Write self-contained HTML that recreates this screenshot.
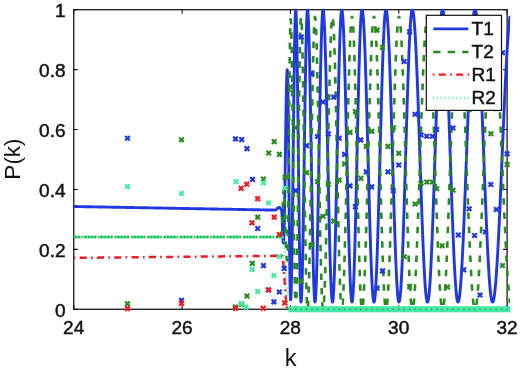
<!DOCTYPE html>
<html><head><meta charset="utf-8"><title>P(k)</title>
<style>html,body{margin:0;padding:0;background:#fff;width:520px;height:371px;overflow:hidden}</style></head>
<body>
<svg width="520" height="371" viewBox="0 0 520 371" style="display:block;position:absolute;left:0;top:0" font-family="'Liberation Sans', sans-serif"><style>text{stroke:#111;stroke-width:0.45px;paint-order:stroke}</style>
<rect width="520" height="371" fill="#fff"/>
<defs><clipPath id="bd"><rect x="341.75" y="11.90" width="175" height="6.5"/><rect x="341.75" y="26.23" width="175" height="6.5"/><rect x="341.75" y="40.56" width="175" height="6.5"/><rect x="341.75" y="54.89" width="175" height="6.5"/><rect x="341.75" y="69.22" width="175" height="6.5"/><rect x="341.75" y="83.55" width="175" height="6.5"/><rect x="341.75" y="97.88" width="175" height="6.5"/><rect x="341.75" y="112.21" width="175" height="6.5"/><rect x="341.75" y="126.54" width="175" height="6.5"/><rect x="341.75" y="140.87" width="175" height="6.5"/><rect x="341.75" y="155.20" width="175" height="6.5"/><rect x="341.75" y="169.53" width="175" height="6.5"/><rect x="341.75" y="183.86" width="175" height="6.5"/><rect x="341.75" y="198.19" width="175" height="6.5"/><rect x="341.75" y="212.52" width="175" height="6.5"/><rect x="341.75" y="226.85" width="175" height="6.5"/><rect x="341.75" y="241.18" width="175" height="6.5"/><rect x="341.75" y="255.51" width="175" height="6.5"/><rect x="341.75" y="269.84" width="175" height="6.5"/><rect x="341.75" y="284.17" width="175" height="6.5"/><rect x="341.75" y="298.50" width="175" height="6.5"/><rect x="341.75" y="312.83" width="175" height="6.5"/></clipPath></defs>
<defs><clipPath id="c"><rect x="73.75" y="8.70" width="436.35" height="304.55"/></clipPath></defs>
<rect x="73.75" y="9.70" width="433.35" height="299.55" fill="none" stroke="#111" stroke-width="1.25"/>
<path d="M73.75 309.25 v-4 M73.75 9.70 v4 M182.09 309.25 v-4 M182.09 9.70 v4 M290.43 309.25 v-4 M290.43 9.70 v4 M398.76 309.25 v-4 M398.76 9.70 v4 M507.10 309.25 v-4 M507.10 9.70 v4 M73.75 309.25 h4 M507.10 309.25 h-4 M73.75 249.34 h4 M507.10 249.34 h-4 M73.75 189.43 h4 M507.10 189.43 h-4 M73.75 129.52 h4 M507.10 129.52 h-4 M73.75 69.61 h4 M507.10 69.61 h-4 M73.75 9.70 h4 M507.10 9.70 h-4" stroke="#111" stroke-width="1.1" fill="none"/>
<text transform="translate(73.65,334.4) scale(1.07,1)" font-size="17.8" text-anchor="middle" fill="#111">24</text>
<text transform="translate(181.99,334.4) scale(1.07,1)" font-size="17.8" text-anchor="middle" fill="#111">26</text>
<text transform="translate(290.32,334.4) scale(1.07,1)" font-size="17.8" text-anchor="middle" fill="#111">28</text>
<text transform="translate(398.66,334.4) scale(1.07,1)" font-size="17.8" text-anchor="middle" fill="#111">30</text>
<text transform="translate(507.10,334.4) scale(1.07,1)" font-size="17.8" text-anchor="middle" fill="#111">32</text>
<text transform="translate(65.5,316.95) scale(1.07,1)" font-size="17.8" text-anchor="end" fill="#111">0</text>
<text transform="translate(65.5,257.04) scale(1.07,1)" font-size="17.8" text-anchor="end" fill="#111">0.2</text>
<text transform="translate(65.5,197.13) scale(1.07,1)" font-size="17.8" text-anchor="end" fill="#111">0.4</text>
<text transform="translate(65.5,137.22) scale(1.07,1)" font-size="17.8" text-anchor="end" fill="#111">0.6</text>
<text transform="translate(65.5,77.31) scale(1.07,1)" font-size="17.8" text-anchor="end" fill="#111">0.8</text>
<text transform="translate(65.5,17.40) scale(1.07,1)" font-size="17.8" text-anchor="end" fill="#111">1</text>
<text x="290.5" y="365.5" font-size="23.5" text-anchor="middle" fill="#111" style="stroke:none">k</text>
<text transform="translate(19.6,159) rotate(-90)" font-size="22.5" text-anchor="middle" fill="#111" style="stroke:none">P(k)</text>
<g clip-path="url(#c)">
<path d="M73.75 206.50 L74.00 206.51 L74.25 206.51 L74.50 206.52 L74.75 206.52 L75.00 206.53 L75.25 206.53 L75.50 206.54 L75.75 206.54 L76.00 206.54 L76.25 206.55 L76.50 206.55 L76.75 206.56 L77.00 206.56 L77.25 206.57 L77.50 206.57 L77.75 206.58 L78.00 206.58 L78.25 206.58 L78.50 206.59 L78.75 206.59 L79.00 206.60 L79.25 206.60 L79.50 206.61 L79.75 206.61 L80.00 206.62 L80.25 206.62 L80.50 206.62 L80.75 206.63 L81.00 206.63 L81.25 206.64 L81.50 206.64 L81.75 206.65 L82.00 206.65 L82.25 206.66 L82.50 206.66 L82.75 206.67 L83.00 206.67 L83.25 206.67 L83.50 206.68 L83.75 206.68 L84.00 206.69 L84.25 206.69 L84.50 206.70 L84.75 206.70 L85.00 206.71 L85.25 206.71 L85.50 206.71 L85.75 206.72 L86.00 206.72 L86.25 206.73 L86.50 206.73 L86.75 206.74 L87.00 206.74 L87.25 206.75 L87.50 206.75 L87.75 206.75 L88.00 206.76 L88.25 206.76 L88.50 206.77 L88.75 206.77 L89.00 206.78 L89.25 206.78 L89.50 206.79 L89.75 206.79 L90.00 206.79 L90.25 206.80 L90.50 206.80 L90.75 206.81 L91.00 206.81 L91.25 206.82 L91.50 206.82 L91.75 206.83 L92.00 206.83 L92.25 206.83 L92.50 206.84 L92.75 206.84 L93.00 206.85 L93.25 206.85 L93.50 206.86 L93.75 206.86 L94.00 206.87 L94.25 206.87 L94.50 206.87 L94.75 206.88 L95.00 206.88 L95.25 206.89 L95.50 206.89 L95.75 206.90 L96.00 206.90 L96.25 206.91 L96.50 206.91 L96.75 206.92 L97.00 206.92 L97.25 206.92 L97.50 206.93 L97.75 206.93 L98.00 206.94 L98.25 206.94 L98.50 206.95 L98.75 206.95 L99.00 206.96 L99.25 206.96 L99.50 206.96 L99.75 206.97 L100.00 206.97 L100.25 206.98 L100.50 206.98 L100.75 206.99 L101.00 206.99 L101.25 207.00 L101.50 207.00 L101.75 207.00 L102.00 207.01 L102.25 207.01 L102.50 207.02 L102.75 207.02 L103.00 207.03 L103.25 207.03 L103.50 207.04 L103.75 207.04 L104.00 207.04 L104.25 207.05 L104.50 207.05 L104.75 207.06 L105.00 207.06 L105.25 207.07 L105.50 207.07 L105.75 207.08 L106.00 207.08 L106.25 207.08 L106.50 207.09 L106.75 207.09 L107.00 207.10 L107.25 207.10 L107.50 207.11 L107.75 207.11 L108.00 207.12 L108.25 207.12 L108.50 207.13 L108.75 207.13 L109.00 207.13 L109.25 207.14 L109.50 207.14 L109.75 207.15 L110.00 207.15 L110.25 207.16 L110.50 207.16 L110.75 207.17 L111.00 207.17 L111.25 207.17 L111.50 207.18 L111.75 207.18 L112.00 207.19 L112.25 207.19 L112.50 207.20 L112.75 207.20 L113.00 207.21 L113.25 207.21 L113.50 207.21 L113.75 207.22 L114.00 207.22 L114.25 207.23 L114.50 207.23 L114.75 207.24 L115.00 207.24 L115.25 207.25 L115.50 207.25 L115.75 207.25 L116.00 207.26 L116.25 207.26 L116.50 207.27 L116.75 207.27 L117.00 207.28 L117.25 207.28 L117.50 207.29 L117.75 207.29 L118.00 207.29 L118.25 207.30 L118.50 207.30 L118.75 207.31 L119.00 207.31 L119.25 207.32 L119.50 207.32 L119.75 207.33 L120.00 207.33 L120.25 207.33 L120.50 207.34 L120.75 207.34 L121.00 207.35 L121.25 207.35 L121.50 207.36 L121.75 207.36 L122.00 207.37 L122.25 207.37 L122.50 207.38 L122.75 207.38 L123.00 207.38 L123.25 207.39 L123.50 207.39 L123.75 207.40 L124.00 207.40 L124.25 207.41 L124.50 207.41 L124.75 207.42 L125.00 207.42 L125.25 207.42 L125.50 207.43 L125.75 207.43 L126.00 207.44 L126.25 207.44 L126.50 207.45 L126.75 207.45 L127.00 207.46 L127.25 207.46 L127.50 207.46 L127.75 207.47 L128.00 207.47 L128.25 207.48 L128.50 207.48 L128.75 207.49 L129.00 207.49 L129.25 207.50 L129.50 207.50 L129.75 207.50 L130.00 207.51 L130.25 207.51 L130.50 207.52 L130.75 207.52 L131.00 207.53 L131.25 207.53 L131.50 207.54 L131.75 207.54 L132.00 207.54 L132.25 207.55 L132.50 207.55 L132.75 207.56 L133.00 207.56 L133.25 207.57 L133.50 207.57 L133.75 207.58 L134.00 207.58 L134.25 207.58 L134.50 207.59 L134.75 207.59 L135.00 207.60 L135.25 207.60 L135.50 207.61 L135.75 207.61 L136.00 207.62 L136.25 207.62 L136.50 207.63 L136.75 207.63 L137.00 207.63 L137.25 207.64 L137.50 207.64 L137.75 207.65 L138.00 207.65 L138.25 207.66 L138.50 207.66 L138.75 207.67 L139.00 207.67 L139.25 207.67 L139.50 207.68 L139.75 207.68 L140.00 207.69 L140.25 207.69 L140.50 207.70 L140.75 207.70 L141.00 207.71 L141.25 207.71 L141.50 207.71 L141.75 207.72 L142.00 207.72 L142.25 207.73 L142.50 207.73 L142.75 207.74 L143.00 207.74 L143.25 207.75 L143.50 207.75 L143.75 207.75 L144.00 207.76 L144.25 207.76 L144.50 207.77 L144.75 207.77 L145.00 207.78 L145.25 207.78 L145.50 207.79 L145.75 207.79 L146.00 207.79 L146.25 207.80 L146.50 207.80 L146.75 207.81 L147.00 207.81 L147.25 207.82 L147.50 207.82 L147.75 207.83 L148.00 207.83 L148.25 207.84 L148.50 207.84 L148.75 207.84 L149.00 207.85 L149.25 207.85 L149.50 207.86 L149.75 207.86 L150.00 207.87 L150.25 207.87 L150.50 207.88 L150.75 207.88 L151.00 207.88 L151.25 207.89 L151.50 207.89 L151.75 207.90 L152.00 207.90 L152.25 207.91 L152.50 207.91 L152.75 207.92 L153.00 207.92 L153.25 207.92 L153.50 207.93 L153.75 207.93 L154.00 207.94 L154.25 207.94 L154.50 207.95 L154.75 207.95 L155.00 207.96 L155.25 207.96 L155.50 207.96 L155.75 207.97 L156.00 207.97 L156.25 207.98 L156.50 207.98 L156.75 207.99 L157.00 207.99 L157.25 208.00 L157.50 208.00 L157.75 208.00 L158.00 208.01 L158.25 208.01 L158.50 208.02 L158.75 208.02 L159.00 208.03 L159.25 208.03 L159.50 208.04 L159.75 208.04 L160.00 208.04 L160.25 208.05 L160.50 208.05 L160.75 208.06 L161.00 208.06 L161.25 208.07 L161.50 208.07 L161.75 208.08 L162.00 208.08 L162.25 208.09 L162.50 208.09 L162.75 208.09 L163.00 208.10 L163.25 208.10 L163.50 208.11 L163.75 208.11 L164.00 208.12 L164.25 208.12 L164.50 208.13 L164.75 208.13 L165.00 208.13 L165.25 208.14 L165.50 208.14 L165.75 208.15 L166.00 208.15 L166.25 208.16 L166.50 208.16 L166.75 208.17 L167.00 208.17 L167.25 208.17 L167.50 208.18 L167.75 208.18 L168.00 208.19 L168.25 208.19 L168.50 208.20 L168.75 208.20 L169.00 208.21 L169.25 208.21 L169.50 208.21 L169.75 208.22 L170.00 208.22 L170.25 208.23 L170.50 208.23 L170.75 208.24 L171.00 208.24 L171.25 208.25 L171.50 208.25 L171.75 208.25 L172.00 208.26 L172.25 208.26 L172.50 208.27 L172.75 208.27 L173.00 208.28 L173.25 208.28 L173.50 208.29 L173.75 208.29 L174.00 208.29 L174.25 208.30 L174.50 208.30 L174.75 208.31 L175.00 208.31 L175.25 208.32 L175.50 208.32 L175.75 208.33 L176.00 208.33 L176.25 208.34 L176.50 208.34 L176.75 208.34 L177.00 208.35 L177.25 208.35 L177.50 208.36 L177.75 208.36 L178.00 208.37 L178.25 208.37 L178.50 208.38 L178.75 208.38 L179.00 208.38 L179.25 208.39 L179.50 208.39 L179.75 208.40 L180.00 208.40 L180.25 208.41 L180.50 208.41 L180.75 208.42 L181.00 208.42 L181.25 208.42 L181.50 208.43 L181.75 208.43 L182.00 208.44 L182.25 208.44 L182.50 208.45 L182.75 208.45 L183.00 208.46 L183.25 208.46 L183.50 208.46 L183.75 208.47 L184.00 208.47 L184.25 208.48 L184.50 208.48 L184.75 208.49 L185.00 208.49 L185.25 208.50 L185.50 208.50 L185.75 208.50 L186.00 208.51 L186.25 208.51 L186.50 208.52 L186.75 208.52 L187.00 208.53 L187.25 208.53 L187.50 208.54 L187.75 208.54 L188.00 208.55 L188.25 208.55 L188.50 208.55 L188.75 208.56 L189.00 208.56 L189.25 208.57 L189.50 208.57 L189.75 208.58 L190.00 208.58 L190.25 208.59 L190.50 208.59 L190.75 208.59 L191.00 208.60 L191.25 208.60 L191.50 208.61 L191.75 208.61 L192.00 208.62 L192.25 208.62 L192.50 208.63 L192.75 208.63 L193.00 208.63 L193.25 208.64 L193.50 208.64 L193.75 208.65 L194.00 208.65 L194.25 208.66 L194.50 208.66 L194.75 208.67 L195.00 208.67 L195.25 208.67 L195.50 208.68 L195.75 208.68 L196.00 208.69 L196.25 208.69 L196.50 208.70 L196.75 208.70 L197.00 208.71 L197.25 208.71 L197.50 208.71 L197.75 208.72 L198.00 208.72 L198.25 208.73 L198.50 208.73 L198.75 208.74 L199.00 208.74 L199.25 208.75 L199.50 208.75 L199.75 208.75 L200.00 208.76 L200.25 208.76 L200.50 208.77 L200.75 208.77 L201.00 208.78 L201.25 208.78 L201.50 208.79 L201.75 208.79 L202.00 208.80 L202.25 208.80 L202.50 208.80 L202.75 208.81 L203.00 208.81 L203.25 208.82 L203.50 208.82 L203.75 208.83 L204.00 208.83 L204.25 208.84 L204.50 208.84 L204.75 208.84 L205.00 208.85 L205.25 208.85 L205.50 208.86 L205.75 208.86 L206.00 208.87 L206.25 208.87 L206.50 208.88 L206.75 208.88 L207.00 208.88 L207.25 208.89 L207.50 208.89 L207.75 208.90 L208.00 208.90 L208.25 208.91 L208.50 208.91 L208.75 208.92 L209.00 208.92 L209.25 208.92 L209.50 208.93 L209.75 208.93 L210.00 208.94 L210.25 208.94 L210.50 208.95 L210.75 208.95 L211.00 208.96 L211.25 208.96 L211.50 208.96 L211.75 208.97 L212.00 208.97 L212.25 208.98 L212.50 208.98 L212.75 208.99 L213.00 208.99 L213.25 209.00 L213.50 209.00 L213.75 209.00 L214.00 209.01 L214.25 209.01 L214.50 209.02 L214.75 209.02 L215.00 209.03 L215.25 209.03 L215.50 209.04 L215.75 209.04 L216.00 209.05 L216.25 209.05 L216.50 209.05 L216.75 209.06 L217.00 209.06 L217.25 209.07 L217.50 209.07 L217.75 209.08 L218.00 209.08 L218.25 209.09 L218.50 209.09 L218.75 209.09 L219.00 209.10 L219.25 209.10 L219.50 209.11 L219.75 209.11 L220.00 209.12 L220.25 209.12 L220.50 209.13 L220.75 209.13 L221.00 209.13 L221.25 209.14 L221.50 209.14 L221.75 209.15 L222.00 209.15 L222.25 209.16 L222.50 209.16 L222.75 209.17 L223.00 209.17 L223.25 209.17 L223.50 209.18 L223.75 209.18 L224.00 209.19 L224.25 209.19 L224.50 209.20 L224.75 209.20 L225.00 209.21 L225.25 209.21 L225.50 209.21 L225.75 209.22 L226.00 209.22 L226.25 209.23 L226.50 209.23 L226.75 209.24 L227.00 209.24 L227.25 209.25 L227.50 209.25 L227.75 209.26 L228.00 209.26 L228.25 209.26 L228.50 209.27 L228.75 209.27 L229.00 209.28 L229.25 209.28 L229.50 209.29 L229.75 209.29 L230.00 209.30 L230.25 209.30 L230.50 209.30 L230.75 209.31 L231.00 209.31 L231.25 209.32 L231.50 209.32 L231.75 209.33 L232.00 209.33 L232.25 209.34 L232.50 209.34 L232.75 209.34 L233.00 209.35 L233.25 209.35 L233.50 209.36 L233.75 209.36 L234.00 209.37 L234.25 209.37 L234.50 209.38 L234.75 209.38 L235.00 209.38 L235.25 209.39 L235.50 209.39 L235.75 209.40 L236.00 209.40 L236.25 209.41 L236.50 209.41 L236.75 209.42 L237.00 209.42 L237.25 209.42 L237.50 209.43 L237.75 209.43 L238.00 209.44 L238.25 209.44 L238.50 209.45 L238.75 209.45 L239.00 209.46 L239.25 209.46 L239.50 209.46 L239.75 209.47 L240.00 209.47 L240.25 209.48 L240.50 209.48 L240.75 209.49 L241.00 209.49 L241.25 209.50 L241.50 209.50 L241.75 209.51 L242.00 209.51 L242.25 209.51 L242.50 209.52 L242.75 209.52 L243.00 209.53 L243.25 209.53 L243.50 209.54 L243.75 209.54 L244.00 209.55 L244.25 209.55 L244.50 209.55 L244.75 209.56 L245.00 209.56 L245.25 209.57 L245.50 209.57 L245.75 209.58 L246.00 209.58 L246.25 209.59 L246.50 209.59 L246.75 209.59 L247.00 209.60 L247.25 209.60 L247.50 209.61 L247.75 209.61 L248.00 209.62 L248.25 209.62 L248.50 209.63 L248.75 209.63 L249.00 209.63 L249.25 209.64 L249.50 209.64 L249.75 209.65 L250.00 209.65 L250.25 209.66 L250.50 209.66 L250.75 209.67 L251.00 209.67 L251.25 209.67 L251.50 209.68 L251.75 209.68 L252.00 209.69 L252.25 209.69 L252.50 209.70 L252.75 209.70 L253.00 209.71 L253.25 209.71 L253.50 209.71 L253.75 209.72 L254.00 209.72 L254.25 209.73 L254.50 209.73 L254.75 209.74 L255.00 209.74 L255.25 209.75 L255.50 209.75 L255.75 209.76 L256.00 209.76 L256.25 209.76 L256.50 209.77 L256.75 209.77 L257.00 209.78 L257.25 209.78 L257.50 209.79 L257.75 209.79 L258.00 209.80 L258.25 209.80 L258.50 209.80 L258.75 209.81 L259.00 209.81 L259.25 209.82 L259.50 209.82 L259.75 209.83 L260.00 209.83 L260.25 209.84 L260.50 209.84 L260.75 209.84 L261.00 209.85 L261.25 209.85 L261.50 209.86 L261.75 209.86 L262.00 209.87 L262.25 209.87 L262.50 209.88 L262.75 209.88 L263.00 209.88 L263.25 209.89 L263.50 209.89 L263.75 209.90 L264.00 209.90 L264.25 209.91 L264.50 209.91 L264.75 209.92 L265.00 209.92 L265.25 209.92 L265.50 209.93 L265.75 209.93 L266.00 209.94 L266.25 209.94 L266.50 209.95 L266.75 209.95 L267.00 209.96 L267.25 209.96 L267.50 209.96 L267.75 209.97 L268.00 209.97 L268.25 209.98 L268.50 209.98 L268.75 209.99 L269.00 209.99 L269.25 210.00 L269.50 210.00 L269.75 210.01 L270.00 210.01 L270.25 210.01 L270.50 210.02 L270.75 210.02 L271.00 210.03 L271.25 210.03 L271.50 210.04 L271.75 210.04 L272.00 210.05 L272.25 210.05 L272.50 210.05 L272.75 210.06 L273.00 210.06 L273.25 210.07 L273.50 210.07 L273.75 210.08 L274.00 210.08 L274.25 210.09 L274.50 210.09 L274.75 210.09 L275.00 210.10 L275.25 210.08 L275.50 210.01 L275.75 209.90 L276.00 209.75 L276.25 209.57 L276.50 209.37 L276.75 209.14 L277.00 208.90 L277.25 208.65 L277.50 208.41 L277.75 208.18 L278.00 207.97 L278.25 207.78 L278.50 207.63 L278.75 207.51 L279.00 207.44 L279.25 207.40 L279.50 207.45 L279.75 207.61 L280.00 207.88 L280.25 208.23 L280.50 208.60 L280.75 208.95 L281.00 209.24 L281.25 209.43 L281.50 209.50 L281.75 210.93 L282.00 214.96 L282.25 220.93 L282.50 227.82 L282.75 234.48 L283.00 239.78 L283.25 242.83 L283.50 243.07 L283.75 239.92 L284.00 233.40 L284.25 223.77 L284.50 211.42 L284.75 196.85 L285.00 180.65 L285.25 163.47 L285.50 146.01 L285.75 128.97 L286.00 113.04 L286.25 98.87 L286.50 87.03 L286.75 78.00 L287.00 72.13 L287.25 69.68 L287.50 71.69 L287.75 80.03 L288.00 94.28 L288.25 113.65 L288.50 137.03 L288.75 163.11 L289.00 190.42 L289.25 217.43 L289.50 242.60 L289.75 264.52 L290.00 281.96 L290.25 293.92 L290.50 299.74 L290.75 299.66 L291.00 295.96 L291.25 288.99 L291.50 278.91 L291.75 265.96 L292.00 250.43 L292.25 232.68 L292.50 213.13 L292.75 192.23 L293.00 170.46 L293.25 148.34 L293.50 126.37 L293.75 105.06 L294.00 84.91 L294.25 66.39 L294.50 49.93 L294.75 35.90 L295.00 24.64 L295.25 16.41 L295.50 11.39 L295.75 9.70 L296.00 11.33 L296.25 16.19 L296.50 24.18 L296.75 35.10 L297.00 48.72 L297.25 64.74 L297.50 82.79 L297.75 102.47 L298.00 123.35 L298.25 144.96 L298.50 166.80 L298.75 188.41 L299.00 209.29 L299.25 228.97 L299.50 247.02 L299.75 263.04 L300.00 276.66 L300.25 287.58 L300.50 295.57 L300.75 300.43 L301.00 302.06 L301.25 300.99 L301.50 297.81 L301.75 292.56 L302.00 285.32 L302.25 276.18 L302.50 265.30 L302.75 252.82 L303.00 238.92 L303.25 223.81 L303.50 207.72 L303.75 190.86 L304.00 173.50 L304.25 155.88 L304.50 138.26 L304.75 120.90 L305.00 104.04 L305.25 87.95 L305.50 72.84 L305.75 58.94 L306.00 46.46 L306.25 35.58 L306.50 26.44 L306.75 19.20 L307.00 13.95 L307.25 10.77 L307.50 9.70 L307.75 10.50 L308.00 12.89 L308.25 16.85 L308.50 22.34 L308.75 29.28 L309.00 37.62 L309.25 47.25 L309.50 58.07 L309.75 69.96 L310.00 82.79 L310.25 96.42 L310.50 110.71 L310.75 125.49 L311.00 140.60 L311.25 155.88 L311.50 171.16 L311.75 186.27 L312.00 201.05 L312.25 215.34 L312.50 228.97 L312.75 241.80 L313.00 253.69 L313.25 264.51 L313.50 274.14 L313.75 282.48 L314.00 289.42 L314.25 294.91 L314.50 298.87 L314.75 301.26 L315.00 302.06 L315.25 301.36 L315.50 299.25 L315.75 295.77 L316.00 290.93 L316.25 284.80 L316.50 277.42 L316.75 268.88 L317.00 259.25 L317.25 248.62 L317.50 237.09 L317.75 224.79 L318.00 211.82 L318.25 198.31 L318.50 184.40 L318.75 170.21 L319.00 155.88 L319.25 141.55 L319.50 127.36 L319.75 113.45 L320.00 99.94 L320.25 86.97 L320.50 74.67 L320.75 63.14 L321.00 52.52 L321.25 42.88 L321.50 34.34 L321.75 26.96 L322.00 20.83 L322.25 15.99 L322.50 12.51 L322.75 10.40 L323.00 9.70 L323.25 10.20 L323.50 11.69 L323.75 14.17 L324.00 17.62 L324.25 22.01 L324.50 27.32 L324.75 33.50 L325.00 40.52 L325.25 48.33 L325.50 56.88 L325.75 66.09 L326.00 75.93 L326.25 86.31 L326.50 97.16 L326.75 108.42 L327.00 120.00 L327.25 131.82 L327.50 143.81 L327.75 155.88 L328.00 167.95 L328.25 179.94 L328.50 191.77 L328.75 203.35 L329.00 214.60 L329.25 225.45 L329.50 235.83 L329.75 245.67 L330.00 254.89 L330.25 263.43 L330.50 271.24 L330.75 278.26 L331.00 284.44 L331.25 289.75 L331.50 294.14 L331.75 297.59 L332.00 300.07 L332.25 301.56 L332.50 302.06 L332.75 301.53 L333.00 299.96 L333.25 297.34 L333.50 293.71 L333.75 289.08 L334.00 283.50 L334.25 276.99 L334.50 269.61 L334.75 261.42 L335.00 252.46 L335.25 242.80 L335.50 232.52 L335.75 221.69 L336.00 210.38 L336.25 198.69 L336.50 186.68 L336.75 174.45 L337.00 162.08 L337.25 149.68 L337.50 137.31 L337.75 125.08 L338.00 113.08 L338.25 101.38 L338.50 90.07 L338.75 79.24 L339.00 68.96 L339.25 59.30 L339.50 50.34 L339.75 42.15 L340.00 34.77 L340.25 28.26 L340.50 22.68 L340.75 18.05 L341.00 14.42 L341.25 11.80 L341.50 10.23 L341.75 9.70 L342.00 10.13 L342.25 11.41 L342.50 13.55 L342.75 16.51 L343.00 20.30 L343.25 24.88 L343.50 30.23 L343.75 36.32 L344.00 43.10 L344.25 50.55 L344.50 58.62 L344.75 67.26 L345.00 76.42 L345.25 86.05 L345.50 96.08 L345.75 106.47 L346.00 117.15 L346.25 128.05 L346.50 139.12 L346.75 150.28 L347.00 161.48 L347.25 172.64 L347.50 183.71 L347.75 194.62 L348.00 205.29 L348.25 215.68 L348.50 225.71 L348.75 235.34 L349.00 244.50 L349.25 253.14 L349.50 261.21 L349.75 268.66 L350.00 275.45 L350.25 281.53 L350.50 286.88 L350.75 291.46 L351.00 295.25 L351.25 298.22 L351.50 300.35 L351.75 301.63 L352.00 302.06 L352.25 301.61 L352.50 300.26 L352.75 298.02 L353.00 294.91 L353.25 290.93 L353.50 286.13 L353.75 280.52 L354.00 274.14 L354.25 267.04 L354.50 259.25 L354.75 250.82 L355.00 241.80 L355.25 232.26 L355.50 222.24 L355.75 211.82 L356.00 201.05 L356.25 190.01 L356.50 178.75 L356.75 167.35 L357.00 155.88 L357.25 144.41 L357.50 133.01 L357.75 121.76 L358.00 110.71 L358.25 99.94 L358.50 89.52 L358.75 79.50 L359.00 69.96 L359.25 60.94 L359.50 52.52 L359.75 44.72 L360.00 37.62 L360.25 31.24 L360.50 25.63 L360.75 20.83 L361.00 16.85 L361.25 13.74 L361.50 11.50 L361.75 10.15 L362.00 9.70 L362.25 10.01 L362.50 10.95 L362.75 12.51 L363.00 14.68 L363.25 17.46 L363.50 20.83 L363.75 24.78 L364.00 29.28 L364.25 34.34 L364.50 39.91 L364.75 45.98 L365.00 52.52 L365.25 59.50 L365.50 66.89 L365.75 74.67 L366.00 82.79 L366.25 91.23 L366.50 99.94 L366.75 108.89 L367.00 118.05 L367.25 127.36 L367.50 136.80 L367.75 146.32 L368.00 155.88 L368.25 165.44 L368.50 174.96 L368.75 184.40 L369.00 193.71 L369.25 202.87 L369.50 211.82 L369.75 220.53 L370.00 228.97 L370.25 237.09 L370.50 244.87 L370.75 252.26 L371.00 259.25 L371.25 265.78 L371.50 271.85 L371.75 277.42 L372.00 282.48 L372.25 286.99 L372.50 290.93 L372.75 294.30 L373.00 297.08 L373.25 299.25 L373.50 300.81 L373.75 301.75 L374.00 302.06 L374.25 301.75 L374.50 300.81 L374.75 299.25 L375.00 297.08 L375.25 294.30 L375.50 290.93 L375.75 286.99 L376.00 282.48 L376.25 277.42 L376.50 271.85 L376.75 265.78 L377.00 259.25 L377.25 252.26 L377.50 244.87 L377.75 237.09 L378.00 228.97 L378.25 220.53 L378.50 211.82 L378.75 202.87 L379.00 193.71 L379.25 184.40 L379.50 174.96 L379.75 165.44 L380.00 155.88 L380.25 146.32 L380.50 136.80 L380.75 127.36 L381.00 118.05 L381.25 108.89 L381.50 99.94 L381.75 91.23 L382.00 82.79 L382.25 74.67 L382.50 66.89 L382.75 59.50 L383.00 52.52 L383.25 45.98 L383.50 39.91 L383.75 34.34 L384.00 29.28 L384.25 24.78 L384.50 20.83 L384.75 17.46 L385.00 14.68 L385.25 12.51 L385.50 10.95 L385.75 10.01 L386.00 9.70 L386.25 9.97 L386.50 10.77 L386.75 12.09 L387.00 13.95 L387.25 16.32 L387.50 19.20 L387.75 22.58 L388.00 26.44 L388.25 30.78 L388.50 35.58 L388.75 40.81 L389.00 46.46 L389.25 52.52 L389.50 58.94 L389.75 65.73 L390.00 72.84 L390.25 80.26 L390.50 87.95 L390.75 95.89 L391.00 104.04 L391.25 112.39 L391.50 120.90 L391.75 129.53 L392.00 138.26 L392.25 147.05 L392.50 155.88 L392.75 164.71 L393.00 173.50 L393.25 182.23 L393.50 190.86 L393.75 199.37 L394.00 207.72 L394.25 215.87 L394.50 223.81 L394.75 231.51 L395.00 238.92 L395.25 246.03 L395.50 252.82 L395.75 259.25 L396.00 265.30 L396.25 270.95 L396.50 276.18 L396.75 280.98 L397.00 285.32 L397.25 289.18 L397.50 292.56 L397.75 295.44 L398.00 297.81 L398.25 299.67 L398.50 300.99 L398.75 301.79 L399.00 302.06 L399.25 301.81 L399.50 301.04 L399.75 299.77 L400.00 298.00 L400.25 295.73 L400.50 292.98 L400.75 289.75 L401.00 286.05 L401.25 281.90 L401.50 277.30 L401.75 272.29 L402.00 266.87 L402.25 261.06 L402.50 254.89 L402.75 248.37 L403.00 241.52 L403.25 234.38 L403.50 226.97 L403.75 219.31 L404.00 211.42 L404.25 203.35 L404.50 195.10 L404.75 186.72 L405.00 178.24 L405.25 169.67 L405.50 161.06 L405.75 152.43 L406.00 143.81 L406.25 135.23 L406.50 126.73 L406.75 118.32 L407.00 110.05 L407.25 101.94 L407.50 94.01 L407.75 86.31 L408.00 78.84 L408.25 71.64 L408.50 64.74 L408.75 58.15 L409.00 51.91 L409.25 46.02 L409.50 40.52 L409.75 35.43 L410.00 30.75 L410.25 26.51 L410.50 22.72 L410.75 19.39 L411.00 16.54 L411.25 14.17 L411.50 12.30 L411.75 10.93 L412.00 10.07 L412.25 9.71 L412.50 9.82 L412.75 10.33 L413.00 11.23 L413.25 12.51 L413.50 14.17 L413.75 16.22 L414.00 18.63 L414.25 21.41 L414.50 24.55 L414.75 28.04 L415.00 31.88 L415.25 36.04 L415.50 40.52 L415.75 45.31 L416.00 50.40 L416.25 55.77 L416.50 61.40 L416.75 67.29 L417.00 73.42 L417.25 79.76 L417.50 86.31 L417.75 93.04 L418.00 99.94 L418.25 106.99 L418.50 114.17 L418.75 121.46 L419.00 128.85 L419.25 136.30 L419.50 143.81 L419.75 151.35 L420.00 158.90 L420.25 166.45 L420.50 173.96 L420.75 181.43 L421.00 188.83 L421.25 196.14 L421.50 203.35 L421.75 210.42 L422.00 217.35 L422.25 224.12 L422.50 230.71 L422.75 237.09 L423.00 243.26 L423.25 249.20 L423.50 254.89 L423.75 260.31 L424.00 265.45 L424.25 270.30 L424.50 274.85 L424.75 279.08 L425.00 282.98 L425.25 286.54 L425.50 289.75 L425.75 292.60 L426.00 295.09 L426.25 297.21 L426.50 298.95 L426.75 300.31 L427.00 301.28 L427.25 301.87 L427.50 302.06 L427.75 301.86 L428.00 301.26 L428.25 300.26 L428.50 298.87 L428.75 297.08 L429.00 294.91 L429.25 292.35 L429.50 289.42 L429.75 286.13 L430.00 282.48 L430.25 278.48 L430.50 274.14 L430.75 269.48 L431.00 264.51 L431.25 259.25 L431.50 253.69 L431.75 247.87 L432.00 241.80 L432.25 235.50 L432.50 228.97 L432.75 222.24 L433.00 215.34 L433.25 208.27 L433.50 201.05 L433.75 193.71 L434.00 186.27 L434.25 178.75 L434.50 171.16 L434.75 163.53 L435.00 155.88 L435.25 148.23 L435.50 140.60 L435.75 133.01 L436.00 125.49 L436.25 118.05 L436.50 110.71 L436.75 103.49 L437.00 96.42 L437.25 89.52 L437.50 82.79 L437.75 76.26 L438.00 69.96 L438.25 63.89 L438.50 58.07 L438.75 52.52 L439.00 47.25 L439.25 42.28 L439.50 37.62 L439.75 33.28 L440.00 29.28 L440.25 25.63 L440.50 22.34 L440.75 19.41 L441.00 16.85 L441.25 14.68 L441.50 12.89 L441.75 11.50 L442.00 10.50 L442.25 9.90 L442.50 9.70 L442.75 9.89 L443.00 10.45 L443.25 11.39 L443.50 12.69 L443.75 14.37 L444.00 16.40 L444.25 18.80 L444.50 21.55 L444.75 24.64 L445.00 28.07 L445.25 31.83 L445.50 35.90 L445.75 40.28 L446.00 44.96 L446.25 49.93 L446.50 55.17 L446.75 60.66 L447.00 66.40 L447.25 72.37 L447.50 78.56 L447.75 84.94 L448.00 91.50 L448.25 98.23 L448.50 105.11 L448.75 112.12 L449.00 119.24 L449.25 126.45 L449.50 133.74 L449.75 141.09 L450.00 148.48 L450.25 155.88 L450.50 163.28 L450.75 170.67 L451.00 178.02 L451.25 185.31 L451.50 192.52 L451.75 199.64 L452.00 206.65 L452.25 213.53 L452.50 220.26 L452.75 226.82 L453.00 233.20 L453.25 239.39 L453.50 245.36 L453.75 251.10 L454.00 256.59 L454.25 261.83 L454.50 266.80 L454.75 271.48 L455.00 275.86 L455.25 279.94 L455.50 283.69 L455.75 287.12 L456.00 290.21 L456.25 292.96 L456.50 295.36 L456.75 297.39 L457.00 299.07 L457.25 300.38 L457.50 301.31 L457.75 301.87 L458.00 302.06 L458.25 301.90 L458.50 301.44 L458.75 300.66 L459.00 299.57 L459.25 298.18 L459.50 296.48 L459.75 294.48 L460.00 292.19 L460.25 289.61 L460.50 286.74 L460.75 283.59 L461.00 280.17 L461.25 276.48 L461.50 272.53 L461.75 268.34 L462.00 263.91 L462.25 259.25 L462.50 254.36 L462.75 249.27 L463.00 243.97 L463.25 238.49 L463.50 232.83 L463.75 227.01 L464.00 221.04 L464.25 214.93 L464.50 208.69 L464.75 202.34 L465.00 195.88 L465.25 189.35 L465.50 182.74 L465.75 176.08 L466.00 169.37 L466.25 162.63 L466.50 155.88 L466.75 149.13 L467.00 142.39 L467.25 135.68 L467.50 129.02 L467.75 122.41 L468.00 115.88 L468.25 109.43 L468.50 103.07 L468.75 96.84 L469.00 90.72 L469.25 84.75 L469.50 78.93 L469.75 73.27 L470.00 67.79 L470.25 62.49 L470.50 57.40 L470.75 52.52 L471.00 47.85 L471.25 43.42 L471.50 39.23 L471.75 35.28 L472.00 31.60 L472.25 28.17 L472.50 25.03 L472.75 22.16 L473.00 19.57 L473.25 17.28 L473.50 15.28 L473.75 13.58 L474.00 12.19 L474.25 11.10 L474.50 10.32 L474.75 9.86 L475.00 9.70 L475.25 9.85 L475.50 10.29 L475.75 11.02 L476.00 12.05 L476.25 13.37 L476.50 14.97 L476.75 16.85 L477.00 19.02 L477.25 21.46 L477.50 24.18 L477.75 27.15 L478.00 30.39 L478.25 33.88 L478.50 37.62 L478.75 41.59 L479.00 45.80 L479.25 50.22 L479.50 54.86 L479.75 59.70 L480.00 64.74 L480.25 69.96 L480.50 75.35 L480.75 80.90 L481.00 86.61 L481.25 92.46 L481.50 98.43 L481.75 104.52 L482.00 110.71 L482.25 116.99 L482.50 123.35 L482.75 129.78 L483.00 136.26 L483.25 142.78 L483.50 149.32 L483.75 155.88 L484.00 162.44 L484.25 168.98 L484.50 175.50 L484.75 181.98 L485.00 188.41 L485.25 194.77 L485.50 201.05 L485.75 207.24 L486.00 213.33 L486.25 219.31 L486.50 225.15 L486.75 230.86 L487.00 236.41 L487.25 241.80 L487.50 247.02 L487.75 252.06 L488.00 256.90 L488.25 261.54 L488.50 265.96 L488.75 270.17 L489.00 274.14 L489.25 277.88 L489.50 281.37 L489.75 284.61 L490.00 287.58 L490.25 290.30 L490.50 292.74 L490.75 294.91 L491.00 296.79 L491.25 298.40 L491.50 299.71 L491.75 300.74 L492.00 301.47 L492.25 301.91 L492.50 302.06 L492.75 301.94 L493.00 301.58 L493.25 300.97 L493.50 300.13 L493.75 299.05 L494.00 297.73 L494.25 296.17 L494.50 294.38 L494.75 292.37 L495.00 290.12 L495.25 287.66 L495.50 284.97 L495.75 282.08 L496.00 278.97 L496.25 275.66 L496.50 272.15 L496.75 268.45 L497.00 264.57 L497.25 260.50 L497.50 256.26 L497.75 251.85 L498.00 247.29 L498.25 242.57 L498.50 237.71 L498.75 232.72 L499.00 227.59 L499.25 222.35 L499.50 217.00 L499.75 211.55 L500.00 206.00 L500.25 200.37 L500.50 194.67 L500.75 188.91 L501.00 183.08 L501.25 177.22 L501.50 171.32 L501.75 165.39 L502.00 159.45 L502.25 153.50 L502.50 147.56 L502.75 141.63 L503.00 135.72 L503.25 129.85 L503.50 124.02 L503.75 118.24 L504.00 112.52 L504.25 106.88 L504.50 101.32 L504.75 95.84 L505.00 90.47 L505.25 85.21 L505.50 80.06 L505.75 75.04 L506.00 70.15 L506.25 65.40 L506.50 60.81 L506.75 56.37 L507.00 52.10 L507.25 47.99 L507.50 44.07 L507.75 40.33 L508.00 36.78 L508.25 33.43 L508.50 30.29 L508.75 27.35 L509.00 24.62 L509.25 22.11 L509.50 19.83 L509.75 17.76 L510.00 15.93" stroke="#1f38e2" stroke-width="2.9" fill="none" stroke-linejoin="round"/>
<path d="M281.00 237.00 L281.25 237.00 L281.50 237.00 L281.75 233.74 L282.00 229.71 L282.25 223.32 L282.50 215.62 L282.75 207.63 L283.00 200.51 L283.25 194.81 L283.50 190.79 L283.75 189.09 L284.00 189.80 L284.25 192.78 L284.50 197.77 L284.75 204.42 L285.00 212.30 L285.25 220.93 L285.50 229.79 L285.75 238.35 L286.00 246.09 L286.25 252.54 L286.50 257.27 L286.75 259.96 L287.00 260.36 L287.25 258.36 L287.50 252.99 L287.75 242.18 L288.00 226.13 L288.25 205.67 L288.50 181.92 L288.75 155.84 L289.00 128.53 L289.25 101.52 L289.50 76.35 L289.75 54.43 L290.00 36.99 L290.25 25.03 L290.50 19.21 L290.75 19.29 L291.00 22.99 L291.25 29.96 L291.50 40.04 L291.75 52.99 L292.00 68.52 L292.25 86.27 L292.50 105.82 L292.75 126.72 L293.00 148.49 L293.25 170.61 L293.50 192.58 L293.75 213.89 L294.00 234.04 L294.25 252.56 L294.50 269.02 L294.75 283.05 L295.00 294.31 L295.25 302.54 L295.50 307.56 L295.75 309.25 L296.00 307.62 L296.25 302.76 L296.50 294.77 L296.75 283.85 L297.00 270.23 L297.25 254.21 L297.50 236.16 L297.75 216.48 L298.00 195.60 L298.25 173.99 L298.50 152.15 L298.75 130.54 L299.00 109.66 L299.25 89.98 L299.50 71.93 L299.75 55.91 L300.00 42.29 L300.25 31.37 L300.50 23.38 L300.75 18.52 L301.00 16.89 L301.25 17.96 L301.50 21.14 L301.75 26.39 L302.00 33.63 L302.25 42.77 L302.50 53.65 L302.75 66.13 L303.00 80.03 L303.25 95.14 L303.50 111.23 L303.75 128.09 L304.00 145.45 L304.25 163.07 L304.50 180.69 L304.75 198.05 L305.00 214.91 L305.25 231.00 L305.50 246.11 L305.75 260.01 L306.00 272.49 L306.25 283.37 L306.50 292.51 L306.75 299.75 L307.00 305.00 L307.25 308.18 L307.50 309.25 L307.75 308.45 L308.00 306.06 L308.25 302.10 L308.50 296.61 L308.75 289.67 L309.00 281.33 L309.25 271.70 L309.50 260.88 L309.75 248.99 L310.00 236.16 L310.25 222.53 L310.50 208.24 L310.75 193.46 L311.00 178.35 L311.25 163.07 L311.50 147.79 L311.75 132.68 L312.00 117.90 L312.25 103.61 L312.50 89.98 L312.75 77.15 L313.00 65.26 L313.25 54.44 L313.50 44.81 L313.75 36.47 L314.00 29.53 L314.25 24.04 L314.50 20.08 L314.75 17.69 L315.00 16.89 L315.25 17.59 L315.50 19.70 L315.75 23.18 L316.00 28.02 L316.25 34.15 L316.50 41.53 L316.75 50.07 L317.00 59.70 L317.25 70.33 L317.50 81.86 L317.75 94.16 L318.00 107.13 L318.25 120.64 L318.50 134.55 L318.75 148.74 L319.00 163.07 L319.25 177.40 L319.50 191.59 L319.75 205.50 L320.00 219.01 L320.25 231.98 L320.50 244.28 L320.75 255.81 L321.00 266.43 L321.25 276.07 L321.50 284.61 L321.75 291.99 L322.00 298.12 L322.25 302.96 L322.50 306.44 L322.75 308.55 L323.00 309.25 L323.25 308.75 L323.50 307.26 L323.75 304.78 L324.00 301.33 L324.25 296.94 L324.50 291.63 L324.75 285.45 L325.00 278.43 L325.25 270.62 L325.50 262.07 L325.75 252.86 L326.00 243.02 L326.25 232.64 L326.50 221.79 L326.75 210.53 L327.00 198.95 L327.25 187.13 L327.50 175.14 L327.75 163.07 L328.00 151.00 L328.25 139.01 L328.50 127.18 L328.75 115.60 L329.00 104.35 L329.25 93.50 L329.50 83.12 L329.75 73.28 L330.00 64.06 L330.25 55.52 L330.50 47.71 L330.75 40.69 L331.00 34.51 L331.25 29.20 L331.50 24.81 L331.75 21.36 L332.00 18.88 L332.25 17.39 L332.50 16.89 L332.75 17.42 L333.00 18.99 L333.25 21.61 L333.50 25.24 L333.75 29.87 L334.00 35.45 L334.25 41.96 L334.50 49.34 L334.75 57.53 L335.00 66.49 L335.25 76.15 L335.50 86.43 L335.75 97.26 L336.00 108.57 L336.25 120.26 L336.50 132.27 L336.75 144.50 L337.00 156.87 L337.25 169.27 L337.50 181.64 L337.75 193.87 L338.00 205.87 L338.25 217.57 L338.50 228.88 L338.75 239.71 L339.00 249.99 L339.25 259.65 L339.50 268.61 L339.75 276.80 L340.00 284.18 L340.25 290.69 L340.50 296.27 L340.75 300.90 L341.00 304.53 L341.25 307.15 L341.50 308.72 L341.75 309.25" stroke="#2a8a1f" stroke-width="2.6" fill="none" stroke-linejoin="round" stroke-dasharray="6.6 7.8"/>
<g clip-path="url(#bd)"><path d="M341.75 309.25 L342.00 308.82 L342.25 307.54 L342.50 305.40 L342.75 302.44 L343.00 298.65 L343.25 294.07 L343.50 288.72 L343.75 282.63 L344.00 275.85 L344.25 268.40 L344.50 260.33 L344.75 251.69 L345.00 242.53 L345.25 232.90 L345.50 222.87 L345.75 212.48 L346.00 201.80 L346.25 190.90 L346.50 179.83 L346.75 168.67 L347.00 157.47 L347.25 146.31 L347.50 135.24 L347.75 124.33 L348.00 113.66 L348.25 103.27 L348.50 93.24 L348.75 83.61 L349.00 74.45 L349.25 65.81 L349.50 57.74 L349.75 50.29 L350.00 43.50 L350.25 37.42 L350.50 32.07 L350.75 27.49 L351.00 23.70 L351.25 20.73 L351.50 18.60 L351.75 17.32 L352.00 16.89 L352.25 17.34 L352.50 18.69 L352.75 20.93 L353.00 24.04 L353.25 28.02 L353.50 32.82 L353.75 38.43 L354.00 44.81 L354.25 51.91 L354.50 59.70 L354.75 68.13 L355.00 77.15 L355.25 86.69 L355.50 96.71 L355.75 107.13 L356.00 117.90 L356.25 128.94 L356.50 140.20 L356.75 151.60 L357.00 163.07 L357.25 174.54 L357.50 185.94 L357.75 197.19 L358.00 208.24 L358.25 219.01 L358.50 229.43 L358.75 239.45 L359.00 248.99 L359.25 258.01 L359.50 266.43 L359.75 274.23 L360.00 281.33 L360.25 287.71 L360.50 293.32 L360.75 298.12 L361.00 302.10 L361.25 305.21 L361.50 307.45 L361.75 308.80 L362.00 309.25 L362.25 308.94 L362.50 308.00 L362.75 306.44 L363.00 304.27 L363.25 301.49 L363.50 298.12 L363.75 294.17 L364.00 289.67 L364.25 284.61 L364.50 279.04 L364.75 272.97 L365.00 266.43 L365.25 259.45 L365.50 252.06 L365.75 244.28 L366.00 236.16 L366.25 227.72 L366.50 219.01 L366.75 210.06 L367.00 200.90 L367.25 191.59 L367.50 182.15 L367.75 172.63 L368.00 163.07 L368.25 153.51 L368.50 143.99 L368.75 134.55 L369.00 125.24 L369.25 116.08 L369.50 107.13 L369.75 98.42 L370.00 89.98 L370.25 81.86 L370.50 74.08 L370.75 66.69 L371.00 59.70 L371.25 53.17 L371.50 47.10 L371.75 41.53 L372.00 36.47 L372.25 31.96 L372.50 28.02 L372.75 24.65 L373.00 21.87 L373.25 19.70 L373.50 18.14 L373.75 17.20 L374.00 16.89 L374.25 17.20 L374.50 18.14 L374.75 19.70 L375.00 21.87 L375.25 24.65 L375.50 28.02 L375.75 31.96 L376.00 36.47 L376.25 41.53 L376.50 47.10 L376.75 53.17 L377.00 59.70 L377.25 66.69 L377.50 74.08 L377.75 81.86 L378.00 89.98 L378.25 98.42 L378.50 107.13 L378.75 116.08 L379.00 125.24 L379.25 134.55 L379.50 143.99 L379.75 153.51 L380.00 163.07 L380.25 172.63 L380.50 182.15 L380.75 191.59 L381.00 200.90 L381.25 210.06 L381.50 219.01 L381.75 227.72 L382.00 236.16 L382.25 244.28 L382.50 252.06 L382.75 259.45 L383.00 266.43 L383.25 272.97 L383.50 279.04 L383.75 284.61 L384.00 289.67 L384.25 294.17 L384.50 298.12 L384.75 301.49 L385.00 304.27 L385.25 306.44 L385.50 308.00 L385.75 308.94 L386.00 309.25 L386.25 308.98 L386.50 308.18 L386.75 306.86 L387.00 305.00 L387.25 302.63 L387.50 299.75 L387.75 296.37 L388.00 292.51 L388.25 288.17 L388.50 283.37 L388.75 278.14 L389.00 272.49 L389.25 266.43 L389.50 260.01 L389.75 253.22 L390.00 246.11 L390.25 238.69 L390.50 231.00 L390.75 223.06 L391.00 214.91 L391.25 206.56 L391.50 198.05 L391.75 189.42 L392.00 180.69 L392.25 171.90 L392.50 163.07 L392.75 154.24 L393.00 145.45 L393.25 136.72 L393.50 128.09 L393.75 119.58 L394.00 111.23 L394.25 103.08 L394.50 95.14 L394.75 87.44 L395.00 80.03 L395.25 72.92 L395.50 66.13 L395.75 59.70 L396.00 53.65 L396.25 48.00 L396.50 42.77 L396.75 37.97 L397.00 33.63 L397.25 29.77 L397.50 26.39 L397.75 23.51 L398.00 21.14 L398.25 19.28 L398.50 17.96 L398.75 17.16 L399.00 16.89 L399.25 17.14 L399.50 17.91 L399.75 19.18 L400.00 20.95 L400.25 23.22 L400.50 25.97 L400.75 29.20 L401.00 32.90 L401.25 37.05 L401.50 41.65 L401.75 46.66 L402.00 52.08 L402.25 57.89 L402.50 64.06 L402.75 70.58 L403.00 77.43 L403.25 84.57 L403.50 91.98 L403.75 99.64 L404.00 107.53 L404.25 115.60 L404.50 123.85 L404.75 132.23 L405.00 140.71 L405.25 149.28 L405.50 157.89 L405.75 166.52 L406.00 175.14 L406.25 183.72 L406.50 192.22 L406.75 200.63 L407.00 208.90 L407.25 217.01 L407.50 224.94 L407.75 232.64 L408.00 240.11 L408.25 247.31 L408.50 254.21 L408.75 260.80 L409.00 267.04 L409.25 272.93 L409.50 278.43 L409.75 283.52 L410.00 288.20 L410.25 292.44 L410.50 296.23 L410.75 299.56 L411.00 302.41 L411.25 304.78 L411.50 306.65 L411.75 308.02 L412.00 308.88 L412.25 309.24 L412.50 309.13 L412.75 308.62 L413.00 307.72 L413.25 306.44 L413.50 304.78 L413.75 302.73 L414.00 300.32 L414.25 297.54 L414.50 294.40 L414.75 290.91 L415.00 287.07 L415.25 282.91 L415.50 278.43 L415.75 273.64 L416.00 268.55 L416.25 263.18 L416.50 257.55 L416.75 251.66 L417.00 245.53 L417.25 239.19 L417.50 232.64 L417.75 225.91 L418.00 219.01 L418.25 211.96 L418.50 204.78 L418.75 197.49 L419.00 190.10 L419.25 182.65 L419.50 175.14 L419.75 167.60 L420.00 160.05 L420.25 152.50 L420.50 144.99 L420.75 137.52 L421.00 130.12 L421.25 122.81 L421.50 115.60 L421.75 108.53 L422.00 101.60 L422.25 94.83 L422.50 88.24 L422.75 81.86 L423.00 75.69 L423.25 69.75 L423.50 64.06 L423.75 58.64 L424.00 53.50 L424.25 48.65 L424.50 44.10 L424.75 39.87 L425.00 35.97 L425.25 32.41 L425.50 29.20 L425.75 26.35 L426.00 23.86 L426.25 21.74 L426.50 20.00 L426.75 18.64 L427.00 17.67 L427.25 17.08 L427.50 16.89 L427.75 17.09 L428.00 17.69 L428.25 18.69 L428.50 20.08 L428.75 21.87 L429.00 24.04 L429.25 26.60 L429.50 29.53 L429.75 32.82 L430.00 36.47 L430.25 40.47 L430.50 44.81 L430.75 49.47 L431.00 54.44 L431.25 59.70 L431.50 65.26 L431.75 71.08 L432.00 77.15 L432.25 83.45 L432.50 89.98 L432.75 96.71 L433.00 103.61 L433.25 110.68 L433.50 117.90 L433.75 125.24 L434.00 132.68 L434.25 140.20 L434.50 147.79 L434.75 155.42 L435.00 163.07 L435.25 170.72 L435.50 178.35 L435.75 185.94 L436.00 193.46 L436.25 200.90 L436.50 208.24 L436.75 215.46 L437.00 222.53 L437.25 229.43 L437.50 236.16 L437.75 242.69 L438.00 248.99 L438.25 255.06 L438.50 260.88 L438.75 266.43 L439.00 271.70 L439.25 276.67 L439.50 281.33 L439.75 285.67 L440.00 289.67 L440.25 293.32 L440.50 296.61 L440.75 299.54 L441.00 302.10 L441.25 304.27 L441.50 306.06 L441.75 307.45 L442.00 308.45 L442.25 309.05 L442.50 309.25 L442.75 309.06 L443.00 308.50 L443.25 307.56 L443.50 306.26 L443.75 304.58 L444.00 302.55 L444.25 300.15 L444.50 297.40 L444.75 294.31 L445.00 290.88 L445.25 287.12 L445.50 283.05 L445.75 278.67 L446.00 273.99 L446.25 269.02 L446.50 263.78 L446.75 258.29 L447.00 252.55 L447.25 246.58 L447.50 240.39 L447.75 234.01 L448.00 227.45 L448.25 220.72 L448.50 213.84 L448.75 206.83 L449.00 199.71 L449.25 192.50 L449.50 185.21 L449.75 177.86 L450.00 170.47 L450.25 163.07 L450.50 155.67 L450.75 148.28 L451.00 140.93 L451.25 133.64 L451.50 126.43 L451.75 119.31 L452.00 112.30 L452.25 105.42 L452.50 98.69 L452.75 92.13 L453.00 85.75 L453.25 79.56 L453.50 73.59 L453.75 67.85 L454.00 62.36 L454.25 57.12 L454.50 52.15 L454.75 47.47 L455.00 43.09 L455.25 39.01 L455.50 35.26 L455.75 31.83 L456.00 28.74 L456.25 25.99 L456.50 23.59 L456.75 21.56 L457.00 19.88 L457.25 18.57 L457.50 17.64 L457.75 17.08 L458.00 16.89 L458.25 17.05 L458.50 17.51 L458.75 18.29 L459.00 19.38 L459.25 20.77 L459.50 22.47 L459.75 24.47 L460.00 26.76 L460.25 29.34 L460.50 32.21 L460.75 35.36 L461.00 38.78 L461.25 42.47 L461.50 46.42 L461.75 50.61 L462.00 55.04 L462.25 59.70 L462.50 64.59 L462.75 69.68 L463.00 74.98 L463.25 80.46 L463.50 86.12 L463.75 91.94 L464.00 97.91 L464.25 104.02 L464.50 110.26 L464.75 116.61 L465.00 123.07 L465.25 129.60 L465.50 136.21 L465.75 142.87 L466.00 149.58 L466.25 156.32 L466.50 163.07 L466.75 169.82 L467.00 176.56 L467.25 183.27 L467.50 189.93 L467.75 196.54 L468.00 203.07 L468.25 209.52 L468.50 215.88 L468.75 222.11 L469.00 228.23 L469.25 234.20 L469.50 240.02 L469.75 245.68 L470.00 251.16 L470.25 256.46 L470.50 261.55 L470.75 266.43 L471.00 271.10 L471.25 275.53 L471.50 279.72 L471.75 283.67 L472.00 287.35 L472.25 290.78 L472.50 293.92 L472.75 296.79 L473.00 299.38 L473.25 301.67 L473.50 303.67 L473.75 305.37 L474.00 306.76 L474.25 307.85 L474.50 308.63 L474.75 309.09 L475.00 309.25 L475.25 309.10 L475.50 308.66 L475.75 307.93 L476.00 306.90 L476.25 305.58 L476.50 303.98 L476.75 302.10 L477.00 299.93 L477.25 297.49 L477.50 294.77 L477.75 291.80 L478.00 288.56 L478.25 285.07 L478.50 281.33 L478.75 277.36 L479.00 273.15 L479.25 268.73 L479.50 264.09 L479.75 259.25 L480.00 254.21 L480.25 248.99 L480.50 243.60 L480.75 238.05 L481.00 232.34 L481.25 226.49 L481.50 220.52 L481.75 214.43 L482.00 208.24 L482.25 201.96 L482.50 195.60 L482.75 189.17 L483.00 182.69 L483.25 176.17 L483.50 169.63 L483.75 163.07 L484.00 156.51 L484.25 149.97 L484.50 143.45 L484.75 136.97 L485.00 130.54 L485.25 124.18 L485.50 117.90 L485.75 111.71 L486.00 105.62 L486.25 99.64 L486.50 93.80 L486.75 88.09 L487.00 82.54 L487.25 77.15 L487.50 71.93 L487.75 66.89 L488.00 62.05 L488.25 57.41 L488.50 52.99 L488.75 48.78 L489.00 44.81 L489.25 41.07 L489.50 37.58 L489.75 34.34 L490.00 31.37 L490.25 28.65 L490.50 26.21 L490.75 24.04 L491.00 22.16 L491.25 20.55 L491.50 19.24 L491.75 18.21 L492.00 17.48 L492.25 17.04 L492.50 16.89 L492.75 17.01 L493.00 17.37 L493.25 17.98 L493.50 18.82 L493.75 19.90 L494.00 21.22 L494.25 22.78 L494.50 24.57 L494.75 26.58 L495.00 28.83 L495.25 31.29 L495.50 33.98 L495.75 36.87 L496.00 39.98 L496.25 43.29 L496.50 46.80 L496.75 50.50 L497.00 54.38 L497.25 58.45 L497.50 62.69 L497.75 67.10 L498.00 71.66 L498.25 76.38 L498.50 81.24 L498.75 86.23 L499.00 91.36 L499.25 96.60 L499.50 101.95 L499.75 107.40 L500.00 112.95 L500.25 118.58 L500.50 124.28 L500.75 130.04 L501.00 135.87 L501.25 141.73 L501.50 147.63 L501.75 153.56 L502.00 159.50 L502.25 165.45 L502.50 171.39 L502.75 177.32 L503.00 183.23 L503.25 189.10 L503.50 194.93 L503.75 200.71 L504.00 206.43 L504.25 212.07 L504.50 217.63 L504.75 223.11 L505.00 228.48 L505.25 233.74 L505.50 238.89 L505.75 243.91 L506.00 248.80 L506.25 253.55 L506.50 258.14 L506.75 262.58 L507.00 266.85 L507.25 270.96 L507.50 274.88 L507.75 278.62 L508.00 282.17 L508.25 285.52 L508.50 288.66 L508.75 291.60 L509.00 294.33 L509.25 296.84 L509.50 299.12 L509.75 301.19 L510.00 303.02" stroke="#2a8a1f" stroke-width="2.6" fill="none" stroke-linejoin="round"/></g>
<path d="M73.75 257.88 L74.00 257.87 L74.25 257.87 L74.50 257.87 L74.75 257.87 L75.00 257.86 L75.25 257.86 L75.50 257.86 L75.75 257.86 L76.00 257.85 L76.25 257.85 L76.50 257.85 L76.75 257.85 L77.00 257.84 L77.25 257.84 L77.50 257.84 L77.75 257.84 L78.00 257.83 L78.25 257.83 L78.50 257.83 L78.75 257.83 L79.00 257.82 L79.25 257.82 L79.50 257.82 L79.75 257.82 L80.00 257.81 L80.25 257.81 L80.50 257.81 L80.75 257.81 L81.00 257.80 L81.25 257.80 L81.50 257.80 L81.75 257.80 L82.00 257.79 L82.25 257.79 L82.50 257.79 L82.75 257.79 L83.00 257.78 L83.25 257.78 L83.50 257.78 L83.75 257.78 L84.00 257.77 L84.25 257.77 L84.50 257.77 L84.75 257.77 L85.00 257.76 L85.25 257.76 L85.50 257.76 L85.75 257.76 L86.00 257.75 L86.25 257.75 L86.50 257.75 L86.75 257.75 L87.00 257.74 L87.25 257.74 L87.50 257.74 L87.75 257.74 L88.00 257.73 L88.25 257.73 L88.50 257.73 L88.75 257.73 L89.00 257.72 L89.25 257.72 L89.50 257.72 L89.75 257.72 L90.00 257.71 L90.25 257.71 L90.50 257.71 L90.75 257.71 L91.00 257.70 L91.25 257.70 L91.50 257.70 L91.75 257.70 L92.00 257.69 L92.25 257.69 L92.50 257.69 L92.75 257.69 L93.00 257.68 L93.25 257.68 L93.50 257.68 L93.75 257.68 L94.00 257.67 L94.25 257.67 L94.50 257.67 L94.75 257.67 L95.00 257.66 L95.25 257.66 L95.50 257.66 L95.75 257.66 L96.00 257.65 L96.25 257.65 L96.50 257.65 L96.75 257.65 L97.00 257.64 L97.25 257.64 L97.50 257.64 L97.75 257.64 L98.00 257.63 L98.25 257.63 L98.50 257.63 L98.75 257.63 L99.00 257.62 L99.25 257.62 L99.50 257.62 L99.75 257.62 L100.00 257.61 L100.25 257.61 L100.50 257.61 L100.75 257.61 L101.00 257.60 L101.25 257.60 L101.50 257.60 L101.75 257.60 L102.00 257.59 L102.25 257.59 L102.50 257.59 L102.75 257.59 L103.00 257.58 L103.25 257.58 L103.50 257.58 L103.75 257.58 L104.00 257.57 L104.25 257.57 L104.50 257.57 L104.75 257.57 L105.00 257.56 L105.25 257.56 L105.50 257.56 L105.75 257.55 L106.00 257.55 L106.25 257.55 L106.50 257.55 L106.75 257.54 L107.00 257.54 L107.25 257.54 L107.50 257.54 L107.75 257.53 L108.00 257.53 L108.25 257.53 L108.50 257.53 L108.75 257.52 L109.00 257.52 L109.25 257.52 L109.50 257.52 L109.75 257.51 L110.00 257.51 L110.25 257.51 L110.50 257.51 L110.75 257.50 L111.00 257.50 L111.25 257.50 L111.50 257.50 L111.75 257.49 L112.00 257.49 L112.25 257.49 L112.50 257.49 L112.75 257.48 L113.00 257.48 L113.25 257.48 L113.50 257.48 L113.75 257.47 L114.00 257.47 L114.25 257.47 L114.50 257.47 L114.75 257.46 L115.00 257.46 L115.25 257.46 L115.50 257.46 L115.75 257.45 L116.00 257.45 L116.25 257.45 L116.50 257.45 L116.75 257.44 L117.00 257.44 L117.25 257.44 L117.50 257.44 L117.75 257.43 L118.00 257.43 L118.25 257.43 L118.50 257.43 L118.75 257.42 L119.00 257.42 L119.25 257.42 L119.50 257.42 L119.75 257.41 L120.00 257.41 L120.25 257.41 L120.50 257.41 L120.75 257.40 L121.00 257.40 L121.25 257.40 L121.50 257.40 L121.75 257.39 L122.00 257.39 L122.25 257.39 L122.50 257.39 L122.75 257.38 L123.00 257.38 L123.25 257.38 L123.50 257.38 L123.75 257.37 L124.00 257.37 L124.25 257.37 L124.50 257.37 L124.75 257.36 L125.00 257.36 L125.25 257.36 L125.50 257.36 L125.75 257.35 L126.00 257.35 L126.25 257.35 L126.50 257.35 L126.75 257.34 L127.00 257.34 L127.25 257.34 L127.50 257.34 L127.75 257.33 L128.00 257.33 L128.25 257.33 L128.50 257.33 L128.75 257.32 L129.00 257.32 L129.25 257.32 L129.50 257.32 L129.75 257.31 L130.00 257.31 L130.25 257.31 L130.50 257.31 L130.75 257.30 L131.00 257.30 L131.25 257.30 L131.50 257.30 L131.75 257.29 L132.00 257.29 L132.25 257.29 L132.50 257.29 L132.75 257.28 L133.00 257.28 L133.25 257.28 L133.50 257.28 L133.75 257.27 L134.00 257.27 L134.25 257.27 L134.50 257.27 L134.75 257.26 L135.00 257.26 L135.25 257.26 L135.50 257.26 L135.75 257.25 L136.00 257.25 L136.25 257.25 L136.50 257.25 L136.75 257.24 L137.00 257.24 L137.25 257.24 L137.50 257.24 L137.75 257.23 L138.00 257.23 L138.25 257.23 L138.50 257.23 L138.75 257.22 L139.00 257.22 L139.25 257.22 L139.50 257.22 L139.75 257.21 L140.00 257.21 L140.25 257.21 L140.50 257.21 L140.75 257.20 L141.00 257.20 L141.25 257.20 L141.50 257.20 L141.75 257.19 L142.00 257.19 L142.25 257.19 L142.50 257.18 L142.75 257.18 L143.00 257.18 L143.25 257.18 L143.50 257.17 L143.75 257.17 L144.00 257.17 L144.25 257.17 L144.50 257.16 L144.75 257.16 L145.00 257.16 L145.25 257.16 L145.50 257.15 L145.75 257.15 L146.00 257.15 L146.25 257.15 L146.50 257.14 L146.75 257.14 L147.00 257.14 L147.25 257.14 L147.50 257.13 L147.75 257.13 L148.00 257.13 L148.25 257.13 L148.50 257.12 L148.75 257.12 L149.00 257.12 L149.25 257.12 L149.50 257.11 L149.75 257.11 L150.00 257.11 L150.25 257.11 L150.50 257.10 L150.75 257.10 L151.00 257.10 L151.25 257.10 L151.50 257.09 L151.75 257.09 L152.00 257.09 L152.25 257.09 L152.50 257.08 L152.75 257.08 L153.00 257.08 L153.25 257.08 L153.50 257.07 L153.75 257.07 L154.00 257.07 L154.25 257.07 L154.50 257.06 L154.75 257.06 L155.00 257.06 L155.25 257.06 L155.50 257.05 L155.75 257.05 L156.00 257.05 L156.25 257.05 L156.50 257.04 L156.75 257.04 L157.00 257.04 L157.25 257.04 L157.50 257.03 L157.75 257.03 L158.00 257.03 L158.25 257.03 L158.50 257.02 L158.75 257.02 L159.00 257.02 L159.25 257.02 L159.50 257.01 L159.75 257.01 L160.00 257.01 L160.25 257.01 L160.50 257.00 L160.75 257.00 L161.00 257.00 L161.25 257.00 L161.50 256.99 L161.75 256.99 L162.00 256.99 L162.25 256.99 L162.50 256.98 L162.75 256.98 L163.00 256.98 L163.25 256.98 L163.50 256.97 L163.75 256.97 L164.00 256.97 L164.25 256.97 L164.50 256.96 L164.75 256.96 L165.00 256.96 L165.25 256.96 L165.50 256.95 L165.75 256.95 L166.00 256.95 L166.25 256.95 L166.50 256.94 L166.75 256.94 L167.00 256.94 L167.25 256.94 L167.50 256.93 L167.75 256.93 L168.00 256.93 L168.25 256.93 L168.50 256.92 L168.75 256.92 L169.00 256.92 L169.25 256.92 L169.50 256.91 L169.75 256.91 L170.00 256.91 L170.25 256.91 L170.50 256.90 L170.75 256.90 L171.00 256.90 L171.25 256.90 L171.50 256.89 L171.75 256.89 L172.00 256.89 L172.25 256.89 L172.50 256.88 L172.75 256.88 L173.00 256.88 L173.25 256.88 L173.50 256.87 L173.75 256.87 L174.00 256.87 L174.25 256.87 L174.50 256.86 L174.75 256.86 L175.00 256.86 L175.25 256.86 L175.50 256.85 L175.75 256.85 L176.00 256.85 L176.25 256.85 L176.50 256.84 L176.75 256.84 L177.00 256.84 L177.25 256.84 L177.50 256.83 L177.75 256.83 L178.00 256.83 L178.25 256.82 L178.50 256.82 L178.75 256.82 L179.00 256.82 L179.25 256.81 L179.50 256.81 L179.75 256.81 L180.00 256.81 L180.25 256.80 L180.50 256.80 L180.75 256.80 L181.00 256.80 L181.25 256.79 L181.50 256.79 L181.75 256.79 L182.00 256.79 L182.25 256.78 L182.50 256.78 L182.75 256.78 L183.00 256.78 L183.25 256.77 L183.50 256.77 L183.75 256.77 L184.00 256.77 L184.25 256.76 L184.50 256.76 L184.75 256.76 L185.00 256.76 L185.25 256.75 L185.50 256.75 L185.75 256.75 L186.00 256.75 L186.25 256.74 L186.50 256.74 L186.75 256.74 L187.00 256.74 L187.25 256.73 L187.50 256.73 L187.75 256.73 L188.00 256.73 L188.25 256.72 L188.50 256.72 L188.75 256.72 L189.00 256.72 L189.25 256.71 L189.50 256.71 L189.75 256.71 L190.00 256.71 L190.25 256.70 L190.50 256.70 L190.75 256.70 L191.00 256.70 L191.25 256.69 L191.50 256.69 L191.75 256.69 L192.00 256.69 L192.25 256.68 L192.50 256.68 L192.75 256.68 L193.00 256.68 L193.25 256.67 L193.50 256.67 L193.75 256.67 L194.00 256.67 L194.25 256.66 L194.50 256.66 L194.75 256.66 L195.00 256.66 L195.25 256.65 L195.50 256.65 L195.75 256.65 L196.00 256.65 L196.25 256.64 L196.50 256.64 L196.75 256.64 L197.00 256.64 L197.25 256.63 L197.50 256.63 L197.75 256.63 L198.00 256.63 L198.25 256.62 L198.50 256.62 L198.75 256.62 L199.00 256.62 L199.25 256.61 L199.50 256.61 L199.75 256.61 L200.00 256.61 L200.25 256.60 L200.50 256.60 L200.75 256.60 L201.00 256.60 L201.25 256.59 L201.50 256.59 L201.75 256.59 L202.00 256.59 L202.25 256.58 L202.50 256.58 L202.75 256.58 L203.00 256.58 L203.25 256.57 L203.50 256.57 L203.75 256.57 L204.00 256.57 L204.25 256.56 L204.50 256.56 L204.75 256.56 L205.00 256.56 L205.25 256.55 L205.50 256.55 L205.75 256.55 L206.00 256.55 L206.25 256.54 L206.50 256.54 L206.75 256.54 L207.00 256.54 L207.25 256.53 L207.50 256.53 L207.75 256.53 L208.00 256.53 L208.25 256.52 L208.50 256.52 L208.75 256.52 L209.00 256.52 L209.25 256.51 L209.50 256.51 L209.75 256.51 L210.00 256.51 L210.25 256.50 L210.50 256.50 L210.75 256.50 L211.00 256.50 L211.25 256.49 L211.50 256.49 L211.75 256.49 L212.00 256.49 L212.25 256.48 L212.50 256.48 L212.75 256.48 L213.00 256.48 L213.25 256.47 L213.50 256.47 L213.75 256.47 L214.00 256.47 L214.25 256.46 L214.50 256.46 L214.75 256.46 L215.00 256.45 L215.25 256.45 L215.50 256.45 L215.75 256.45 L216.00 256.44 L216.25 256.44 L216.50 256.44 L216.75 256.44 L217.00 256.43 L217.25 256.43 L217.50 256.43 L217.75 256.43 L218.00 256.42 L218.25 256.42 L218.50 256.42 L218.75 256.42 L219.00 256.41 L219.25 256.41 L219.50 256.41 L219.75 256.41 L220.00 256.40 L220.25 256.40 L220.50 256.40 L220.75 256.40 L221.00 256.39 L221.25 256.39 L221.50 256.39 L221.75 256.39 L222.00 256.38 L222.25 256.38 L222.50 256.38 L222.75 256.38 L223.00 256.37 L223.25 256.37 L223.50 256.37 L223.75 256.37 L224.00 256.36 L224.25 256.36 L224.50 256.36 L224.75 256.36 L225.00 256.35 L225.25 256.35 L225.50 256.35 L225.75 256.35 L226.00 256.34 L226.25 256.34 L226.50 256.34 L226.75 256.34 L227.00 256.33 L227.25 256.33 L227.50 256.33 L227.75 256.33 L228.00 256.32 L228.25 256.32 L228.50 256.32 L228.75 256.32 L229.00 256.31 L229.25 256.31 L229.50 256.31 L229.75 256.31 L230.00 256.30 L230.25 256.30 L230.50 256.30 L230.75 256.30 L231.00 256.29 L231.25 256.29 L231.50 256.29 L231.75 256.29 L232.00 256.28 L232.25 256.28 L232.50 256.28 L232.75 256.28 L233.00 256.27 L233.25 256.27 L233.50 256.27 L233.75 256.27 L234.00 256.26 L234.25 256.26 L234.50 256.26 L234.75 256.26 L235.00 256.25 L235.25 256.25 L235.50 256.25 L235.75 256.25 L236.00 256.24 L236.25 256.24 L236.50 256.24 L236.75 256.24 L237.00 256.23 L237.25 256.23 L237.50 256.23 L237.75 256.23 L238.00 256.22 L238.25 256.22 L238.50 256.22 L238.75 256.22 L239.00 256.21 L239.25 256.21 L239.50 256.21 L239.75 256.21 L240.00 256.20 L240.25 256.20 L240.50 256.20 L240.75 256.20 L241.00 256.19 L241.25 256.19 L241.50 256.19 L241.75 256.19 L242.00 256.18 L242.25 256.18 L242.50 256.18 L242.75 256.18 L243.00 256.17 L243.25 256.17 L243.50 256.17 L243.75 256.17 L244.00 256.16 L244.25 256.16 L244.50 256.16 L244.75 256.16 L245.00 256.15 L245.25 256.15 L245.50 256.15 L245.75 256.15 L246.00 256.14 L246.25 256.14 L246.50 256.14 L246.75 256.14 L247.00 256.13 L247.25 256.13 L247.50 256.13 L247.75 256.13 L248.00 256.12 L248.25 256.12 L248.50 256.12 L248.75 256.12 L249.00 256.11 L249.25 256.11 L249.50 256.11 L249.75 256.11 L250.00 256.10 L250.25 256.10 L250.50 256.10 L250.75 256.09 L251.00 256.09 L251.25 256.09 L251.50 256.09 L251.75 256.08 L252.00 256.08 L252.25 256.08 L252.50 256.08 L252.75 256.07 L253.00 256.07 L253.25 256.07 L253.50 256.07 L253.75 256.06 L254.00 256.06 L254.25 256.06 L254.50 256.06 L254.75 256.05 L255.00 256.05 L255.25 256.05 L255.50 256.05 L255.75 256.04 L256.00 256.04 L256.25 256.04 L256.50 256.04 L256.75 256.03 L257.00 256.03 L257.25 256.03 L257.50 256.03 L257.75 256.02 L258.00 256.02 L258.25 256.02 L258.50 256.02 L258.75 256.01 L259.00 256.01 L259.25 256.01 L259.50 256.01 L259.75 256.00 L260.00 256.00 L260.25 256.00 L260.50 256.00 L260.75 255.99 L261.00 255.99 L261.25 255.99 L261.50 255.99 L261.75 255.98 L262.00 255.98 L262.25 255.98 L262.50 255.98 L262.75 255.97 L263.00 255.97 L263.25 255.97 L263.50 255.97 L263.75 255.96 L264.00 255.96 L264.25 255.96 L264.50 255.96 L264.75 255.95 L265.00 255.95 L265.25 255.95 L265.50 255.95 L265.75 255.94 L266.00 255.94 L266.25 255.94 L266.50 255.94 L266.75 255.93 L267.00 255.93 L267.25 255.93 L267.50 255.93 L267.75 255.92 L268.00 255.92 L268.25 255.92 L268.50 255.92 L268.75 255.91 L269.00 255.91 L269.25 255.91 L269.50 255.91 L269.75 255.90 L270.00 255.90 L270.25 255.90 L270.50 255.90 L270.75 255.89 L271.00 255.89 L271.25 255.89 L271.50 255.89 L271.75 255.88 L272.00 255.88 L272.25 255.88 L272.50 255.88 L272.75 255.87 L273.00 255.87 L273.25 255.87 L273.50 255.87 L273.75 255.86 L274.00 255.86 L274.25 255.86 L274.50 255.86 L274.75 255.85 L275.00 255.85 L275.25 255.85 L275.50 255.85 L275.75 255.84 L276.00 255.84 L276.25 255.84 L276.50 255.84 L276.75 255.83 L277.00 255.83 L277.25 255.83 L277.50 255.83 L277.75 255.82 L278.00 255.82 L278.25 255.82 L278.50 255.82 L278.75 255.81 L279.00 255.81 L279.25 255.81 L279.50 255.81 L279.75 255.80 L280.00 255.80 L280.25 255.80 L280.50 255.80 L280.75 255.79 L281.00 255.79 L281.25 255.79 L281.50 255.79 L281.75 255.78 L282.00 255.78 L282.25 256.20 L282.50 257.01 L282.75 258.34 L283.00 260.16 L283.25 262.44 L283.50 265.13 L283.75 268.18 L284.00 271.52 L284.25 275.08 L284.50 278.80 L284.75 282.59 L285.00 286.38 L285.25 290.10 L285.50 293.66 L285.75 297.00 L286.00 300.05 L286.25 302.74 L286.50 305.02 L286.75 306.84 L287.00 308.17 L287.25 308.98 L287.50 309.25 L287.75 309.25 L288.00 309.25" stroke="#ee1c24" stroke-width="2.5" fill="none" stroke-dasharray="1.6 4.3 7.1 4.3"/>
<path d="M73.75 237.00 L74.00 237.00 L74.25 237.00 L74.50 237.00 L74.75 237.00 L75.00 237.00 L75.25 237.00 L75.50 237.00 L75.75 237.00 L76.00 237.00 L76.25 237.00 L76.50 237.00 L76.75 237.00 L77.00 237.00 L77.25 237.00 L77.50 237.00 L77.75 237.00 L78.00 237.00 L78.25 237.00 L78.50 237.00 L78.75 237.00 L79.00 237.00 L79.25 237.00 L79.50 237.00 L79.75 237.00 L80.00 237.00 L80.25 237.00 L80.50 237.00 L80.75 237.00 L81.00 237.00 L81.25 237.00 L81.50 237.00 L81.75 237.00 L82.00 237.00 L82.25 237.00 L82.50 237.00 L82.75 237.00 L83.00 237.00 L83.25 237.00 L83.50 237.00 L83.75 237.00 L84.00 237.00 L84.25 237.00 L84.50 237.00 L84.75 237.00 L85.00 237.00 L85.25 237.00 L85.50 237.00 L85.75 237.00 L86.00 237.00 L86.25 237.00 L86.50 237.00 L86.75 237.00 L87.00 237.00 L87.25 237.00 L87.50 237.00 L87.75 237.00 L88.00 237.00 L88.25 237.00 L88.50 237.00 L88.75 237.00 L89.00 237.00 L89.25 237.00 L89.50 237.00 L89.75 237.00 L90.00 237.00 L90.25 237.00 L90.50 237.00 L90.75 237.00 L91.00 237.00 L91.25 237.00 L91.50 237.00 L91.75 237.00 L92.00 237.00 L92.25 237.00 L92.50 237.00 L92.75 237.00 L93.00 237.00 L93.25 237.00 L93.50 237.00 L93.75 237.00 L94.00 237.00 L94.25 237.00 L94.50 237.00 L94.75 237.00 L95.00 237.00 L95.25 237.00 L95.50 237.00 L95.75 237.00 L96.00 237.00 L96.25 237.00 L96.50 237.00 L96.75 237.00 L97.00 237.00 L97.25 237.00 L97.50 237.00 L97.75 237.00 L98.00 237.00 L98.25 237.00 L98.50 237.00 L98.75 237.00 L99.00 237.00 L99.25 237.00 L99.50 237.00 L99.75 237.00 L100.00 237.00 L100.25 237.00 L100.50 237.00 L100.75 237.00 L101.00 237.00 L101.25 237.00 L101.50 237.00 L101.75 237.00 L102.00 237.00 L102.25 237.00 L102.50 237.00 L102.75 237.00 L103.00 237.00 L103.25 237.00 L103.50 237.00 L103.75 237.00 L104.00 237.00 L104.25 237.00 L104.50 237.00 L104.75 237.00 L105.00 237.00 L105.25 237.00 L105.50 237.00 L105.75 237.00 L106.00 237.00 L106.25 237.00 L106.50 237.00 L106.75 237.00 L107.00 237.00 L107.25 237.00 L107.50 237.00 L107.75 237.00 L108.00 237.00 L108.25 237.00 L108.50 237.00 L108.75 237.00 L109.00 237.00 L109.25 237.00 L109.50 237.00 L109.75 237.00 L110.00 237.00 L110.25 237.00 L110.50 237.00 L110.75 237.00 L111.00 237.00 L111.25 237.00 L111.50 237.00 L111.75 237.00 L112.00 237.00 L112.25 237.00 L112.50 237.00 L112.75 237.00 L113.00 237.00 L113.25 237.00 L113.50 237.00 L113.75 237.00 L114.00 237.00 L114.25 237.00 L114.50 237.00 L114.75 237.00 L115.00 237.00 L115.25 237.00 L115.50 237.00 L115.75 237.00 L116.00 237.00 L116.25 237.00 L116.50 237.00 L116.75 237.00 L117.00 237.00 L117.25 237.00 L117.50 237.00 L117.75 237.00 L118.00 237.00 L118.25 237.00 L118.50 237.00 L118.75 237.00 L119.00 237.00 L119.25 237.00 L119.50 237.00 L119.75 237.00 L120.00 237.00 L120.25 237.00 L120.50 237.00 L120.75 237.00 L121.00 237.00 L121.25 237.00 L121.50 237.00 L121.75 237.00 L122.00 237.00 L122.25 237.00 L122.50 237.00 L122.75 237.00 L123.00 237.00 L123.25 237.00 L123.50 237.00 L123.75 237.00 L124.00 237.00 L124.25 237.00 L124.50 237.00 L124.75 237.00 L125.00 237.00 L125.25 237.00 L125.50 237.00 L125.75 237.00 L126.00 237.00 L126.25 237.00 L126.50 237.00 L126.75 237.00 L127.00 237.00 L127.25 237.00 L127.50 237.00 L127.75 237.00 L128.00 237.00 L128.25 237.00 L128.50 237.00 L128.75 237.00 L129.00 237.00 L129.25 237.00 L129.50 237.00 L129.75 237.00 L130.00 237.00 L130.25 237.00 L130.50 237.00 L130.75 237.00 L131.00 237.00 L131.25 237.00 L131.50 237.00 L131.75 237.00 L132.00 237.00 L132.25 237.00 L132.50 237.00 L132.75 237.00 L133.00 237.00 L133.25 237.00 L133.50 237.00 L133.75 237.00 L134.00 237.00 L134.25 237.00 L134.50 237.00 L134.75 237.00 L135.00 237.00 L135.25 237.00 L135.50 237.00 L135.75 237.00 L136.00 237.00 L136.25 237.00 L136.50 237.00 L136.75 237.00 L137.00 237.00 L137.25 237.00 L137.50 237.00 L137.75 237.00 L138.00 237.00 L138.25 237.00 L138.50 237.00 L138.75 237.00 L139.00 237.00 L139.25 237.00 L139.50 237.00 L139.75 237.00 L140.00 237.00 L140.25 237.00 L140.50 237.00 L140.75 237.00 L141.00 237.00 L141.25 237.00 L141.50 237.00 L141.75 237.00 L142.00 237.00 L142.25 237.00 L142.50 237.00 L142.75 237.00 L143.00 237.00 L143.25 237.00 L143.50 237.00 L143.75 237.00 L144.00 237.00 L144.25 237.00 L144.50 237.00 L144.75 237.00 L145.00 237.00 L145.25 237.00 L145.50 237.00 L145.75 237.00 L146.00 237.00 L146.25 237.00 L146.50 237.00 L146.75 237.00 L147.00 237.00 L147.25 237.00 L147.50 237.00 L147.75 237.00 L148.00 237.00 L148.25 237.00 L148.50 237.00 L148.75 237.00 L149.00 237.00 L149.25 237.00 L149.50 237.00 L149.75 237.00 L150.00 237.00 L150.25 237.00 L150.50 237.00 L150.75 237.00 L151.00 237.00 L151.25 237.00 L151.50 237.00 L151.75 237.00 L152.00 237.00 L152.25 237.00 L152.50 237.00 L152.75 237.00 L153.00 237.00 L153.25 237.00 L153.50 237.00 L153.75 237.00 L154.00 237.00 L154.25 237.00 L154.50 237.00 L154.75 237.00 L155.00 237.00 L155.25 237.00 L155.50 237.00 L155.75 237.00 L156.00 237.00 L156.25 237.00 L156.50 237.00 L156.75 237.00 L157.00 237.00 L157.25 237.00 L157.50 237.00 L157.75 237.00 L158.00 237.00 L158.25 237.00 L158.50 237.00 L158.75 237.00 L159.00 237.00 L159.25 237.00 L159.50 237.00 L159.75 237.00 L160.00 237.00 L160.25 237.00 L160.50 237.00 L160.75 237.00 L161.00 237.00 L161.25 237.00 L161.50 237.00 L161.75 237.00 L162.00 237.00 L162.25 237.00 L162.50 237.00 L162.75 237.00 L163.00 237.00 L163.25 237.00 L163.50 237.00 L163.75 237.00 L164.00 237.00 L164.25 237.00 L164.50 237.00 L164.75 237.00 L165.00 237.00 L165.25 237.00 L165.50 237.00 L165.75 237.00 L166.00 237.00 L166.25 237.00 L166.50 237.00 L166.75 237.00 L167.00 237.00 L167.25 237.00 L167.50 237.00 L167.75 237.00 L168.00 237.00 L168.25 237.00 L168.50 237.00 L168.75 237.00 L169.00 237.00 L169.25 237.00 L169.50 237.00 L169.75 237.00 L170.00 237.00 L170.25 237.00 L170.50 237.00 L170.75 237.00 L171.00 237.00 L171.25 237.00 L171.50 237.00 L171.75 237.00 L172.00 237.00 L172.25 237.00 L172.50 237.00 L172.75 237.00 L173.00 237.00 L173.25 237.00 L173.50 237.00 L173.75 237.00 L174.00 237.00 L174.25 237.00 L174.50 237.00 L174.75 237.00 L175.00 237.00 L175.25 237.00 L175.50 237.00 L175.75 237.00 L176.00 237.00 L176.25 237.00 L176.50 237.00 L176.75 237.00 L177.00 237.00 L177.25 237.00 L177.50 237.00 L177.75 237.00 L178.00 237.00 L178.25 237.00 L178.50 237.00 L178.75 237.00 L179.00 237.00 L179.25 237.00 L179.50 237.00 L179.75 237.00 L180.00 237.00 L180.25 237.00 L180.50 237.00 L180.75 237.00 L181.00 237.00 L181.25 237.00 L181.50 237.00 L181.75 237.00 L182.00 237.00 L182.25 237.00 L182.50 237.00 L182.75 237.00 L183.00 237.00 L183.25 237.00 L183.50 237.00 L183.75 237.00 L184.00 237.00 L184.25 237.00 L184.50 237.00 L184.75 237.00 L185.00 237.00 L185.25 237.00 L185.50 237.00 L185.75 237.00 L186.00 237.00 L186.25 237.00 L186.50 237.00 L186.75 237.00 L187.00 237.00 L187.25 237.00 L187.50 237.00 L187.75 237.00 L188.00 237.00 L188.25 237.00 L188.50 237.00 L188.75 237.00 L189.00 237.00 L189.25 237.00 L189.50 237.00 L189.75 237.00 L190.00 237.00 L190.25 237.00 L190.50 237.00 L190.75 237.00 L191.00 237.00 L191.25 237.00 L191.50 237.00 L191.75 237.00 L192.00 237.00 L192.25 237.00 L192.50 237.00 L192.75 237.00 L193.00 237.00 L193.25 237.00 L193.50 237.00 L193.75 237.00 L194.00 237.00 L194.25 237.00 L194.50 237.00 L194.75 237.00 L195.00 237.00 L195.25 237.00 L195.50 237.00 L195.75 237.00 L196.00 237.00 L196.25 237.00 L196.50 237.00 L196.75 237.00 L197.00 237.00 L197.25 237.00 L197.50 237.00 L197.75 237.00 L198.00 237.00 L198.25 237.00 L198.50 237.00 L198.75 237.00 L199.00 237.00 L199.25 237.00 L199.50 237.00 L199.75 237.00 L200.00 237.00 L200.25 237.00 L200.50 237.00 L200.75 237.00 L201.00 237.00 L201.25 237.00 L201.50 237.00 L201.75 237.00 L202.00 237.00 L202.25 237.00 L202.50 237.00 L202.75 237.00 L203.00 237.00 L203.25 237.00 L203.50 237.00 L203.75 237.00 L204.00 237.00 L204.25 237.00 L204.50 237.00 L204.75 237.00 L205.00 237.00 L205.25 237.00 L205.50 237.00 L205.75 237.00 L206.00 237.00 L206.25 237.00 L206.50 237.00 L206.75 237.00 L207.00 237.00 L207.25 237.00 L207.50 237.00 L207.75 237.00 L208.00 237.00 L208.25 237.00 L208.50 237.00 L208.75 237.00 L209.00 237.00 L209.25 237.00 L209.50 237.00 L209.75 237.00 L210.00 237.00 L210.25 237.00 L210.50 237.00 L210.75 237.00 L211.00 237.00 L211.25 237.00 L211.50 237.00 L211.75 237.00 L212.00 237.00 L212.25 237.00 L212.50 237.00 L212.75 237.00 L213.00 237.00 L213.25 237.00 L213.50 237.00 L213.75 237.00 L214.00 237.00 L214.25 237.00 L214.50 237.00 L214.75 237.00 L215.00 237.00 L215.25 237.00 L215.50 237.00 L215.75 237.00 L216.00 237.00 L216.25 237.00 L216.50 237.00 L216.75 237.00 L217.00 237.00 L217.25 237.00 L217.50 237.00 L217.75 237.00 L218.00 237.00 L218.25 237.00 L218.50 237.00 L218.75 237.00 L219.00 237.00 L219.25 237.00 L219.50 237.00 L219.75 237.00 L220.00 237.00 L220.25 237.00 L220.50 237.00 L220.75 237.00 L221.00 237.00 L221.25 237.00 L221.50 237.00 L221.75 237.00 L222.00 237.00 L222.25 237.00 L222.50 237.00 L222.75 237.00 L223.00 237.00 L223.25 237.00 L223.50 237.00 L223.75 237.00 L224.00 237.00 L224.25 237.00 L224.50 237.00 L224.75 237.00 L225.00 237.00 L225.25 237.00 L225.50 237.00 L225.75 237.00 L226.00 237.00 L226.25 237.00 L226.50 237.00 L226.75 237.00 L227.00 237.00 L227.25 237.00 L227.50 237.00 L227.75 237.00 L228.00 237.00 L228.25 237.00 L228.50 237.00 L228.75 237.00 L229.00 237.00 L229.25 237.00 L229.50 237.00 L229.75 237.00 L230.00 237.00 L230.25 237.00 L230.50 237.00 L230.75 237.00 L231.00 237.00 L231.25 237.00 L231.50 237.00 L231.75 237.00 L232.00 237.00 L232.25 237.00 L232.50 237.00 L232.75 237.00 L233.00 237.00 L233.25 237.00 L233.50 237.00 L233.75 237.00 L234.00 237.00 L234.25 237.00 L234.50 237.00 L234.75 237.00 L235.00 237.00 L235.25 237.00 L235.50 237.00 L235.75 237.00 L236.00 237.00 L236.25 237.00 L236.50 237.00 L236.75 237.00 L237.00 237.00 L237.25 237.00 L237.50 237.00 L237.75 237.00 L238.00 237.00 L238.25 237.00 L238.50 237.00 L238.75 237.00 L239.00 237.00 L239.25 237.00 L239.50 237.00 L239.75 237.00 L240.00 237.00 L240.25 237.00 L240.50 237.00 L240.75 237.00 L241.00 237.00 L241.25 237.00 L241.50 237.00 L241.75 237.00 L242.00 237.00 L242.25 237.00 L242.50 237.00 L242.75 237.00 L243.00 237.00 L243.25 237.00 L243.50 237.00 L243.75 237.00 L244.00 237.00 L244.25 237.00 L244.50 237.00 L244.75 237.00 L245.00 237.00 L245.25 237.00 L245.50 237.00 L245.75 237.00 L246.00 237.00 L246.25 237.00 L246.50 237.00 L246.75 237.00 L247.00 237.00 L247.25 237.00 L247.50 237.00 L247.75 237.00 L248.00 237.00 L248.25 237.00 L248.50 237.00 L248.75 237.00 L249.00 237.00 L249.25 237.00 L249.50 237.00 L249.75 237.00 L250.00 237.00 L250.25 237.00 L250.50 237.00 L250.75 237.00 L251.00 237.00 L251.25 237.00 L251.50 237.00 L251.75 237.00 L252.00 237.00 L252.25 237.00 L252.50 237.00 L252.75 237.00 L253.00 237.00 L253.25 237.00 L253.50 237.00 L253.75 237.00 L254.00 237.00 L254.25 237.00 L254.50 237.00 L254.75 237.00 L255.00 237.00 L255.25 237.00 L255.50 237.00 L255.75 237.00 L256.00 237.00 L256.25 237.00 L256.50 237.00 L256.75 237.00 L257.00 237.00 L257.25 237.00 L257.50 237.00 L257.75 237.00 L258.00 237.00 L258.25 237.00 L258.50 237.00 L258.75 237.00 L259.00 237.00 L259.25 237.00 L259.50 237.00 L259.75 237.00 L260.00 237.00 L260.25 237.00 L260.50 237.00 L260.75 237.00 L261.00 237.00 L261.25 237.00 L261.50 237.00 L261.75 237.00 L262.00 237.00 L262.25 237.00 L262.50 237.00 L262.75 237.00 L263.00 237.00 L263.25 237.00 L263.50 237.00 L263.75 237.00 L264.00 237.00 L264.25 237.00 L264.50 237.00 L264.75 237.00 L265.00 237.00 L265.25 237.00 L265.50 237.00 L265.75 237.00 L266.00 237.00 L266.25 237.00 L266.50 237.00 L266.75 237.00 L267.00 237.00 L267.25 237.00 L267.50 237.00 L267.75 237.00 L268.00 237.00 L268.25 237.00 L268.50 237.00 L268.75 237.00 L269.00 237.00 L269.25 237.00 L269.50 237.00 L269.75 237.00 L270.00 237.00 L270.25 237.00 L270.50 237.00 L270.75 237.00 L271.00 237.00 L271.25 237.00 L271.50 237.00 L271.75 237.00 L272.00 237.00 L272.25 237.00 L272.50 237.00 L272.75 237.00 L273.00 237.00 L273.25 237.00 L273.50 237.00 L273.75 237.00 L274.00 237.00 L274.25 237.00 L274.50 237.00 L274.75 237.00 L275.00 237.00 L275.25 237.00 L275.50 237.00 L275.75 237.00 L276.00 237.00 L276.25 237.00 L276.50 237.00 L276.75 237.00 L277.00 237.00 L277.25 237.00 L277.50 237.00 L277.75 237.00 L278.00 237.00 L278.25 237.00 L278.50 237.00 L278.75 237.00 L279.00 237.00 L279.25 237.00 L279.50 237.00 L279.75 237.00 L280.00 237.00 L280.25 237.00 L280.50 237.00 L280.75 237.00 L281.00 237.00 L281.25 237.00 L281.50 237.00 L281.75 237.00 L282.00 237.00 L282.25 237.00 L282.50 237.00 L282.75 237.00 L283.00 237.00" stroke="#46e9a4" stroke-width="3" fill="none" stroke-dasharray="13.4 2.6" stroke-dashoffset="6.4"/>
<path d="M283.00 237.00 L283.25 237.37 L283.50 238.46 L283.75 240.26 L284.00 242.73 L284.25 245.82 L284.50 249.47 L284.75 253.59 L285.00 258.12 L285.25 262.95 L285.50 267.98 L285.75 273.12 L286.00 278.27 L286.25 283.30 L286.50 288.13 L286.75 292.66 L287.00 296.78 L287.25 300.43 L287.50 303.52 L287.75 305.99 L288.00 307.79 L288.25 308.88 L288.50 309.25" stroke="#46e9a4" stroke-width="1.6" fill="none" stroke-dasharray="1.4 2.2"/>
<path d="M74.75 237.00 H281" stroke="#2a8a1f" stroke-width="1.8" fill="none" stroke-dasharray="1.5 1.8" opacity="0.8"/>
</g>
<g><path d="M125.20 301.45 l4.60 4.60 M125.20 306.05 l4.60 -4.60" stroke="#2a8a1f" stroke-width="2.2" fill="none"/><path d="M125.20 306.30 l4.60 4.60 M125.20 310.90 l4.60 -4.60" stroke="#ee1c24" stroke-width="2.2" fill="none"/><path d="M125.20 135.95 l4.60 4.60 M125.20 140.55 l4.60 -4.60" stroke="#2436de" stroke-width="2.2" fill="none"/><path d="M125.20 184.20 l4.60 4.60 M125.20 188.80 l4.60 -4.60" stroke="#46e9a4" stroke-width="2.2" fill="none"/><path d="M179.20 298.10 l4.60 4.60 M179.20 302.70 l4.60 -4.60" stroke="#2436de" stroke-width="2.2" fill="none"/><path d="M179.20 301.10 l4.60 4.60 M179.20 305.70 l4.60 -4.60" stroke="#ee1c24" stroke-width="2.2" fill="none"/><path d="M179.20 137.45 l4.60 4.60 M179.20 142.05 l4.60 -4.60" stroke="#2a8a1f" stroke-width="2.2" fill="none"/><path d="M179.20 191.20 l4.60 4.60 M179.20 195.80 l4.60 -4.60" stroke="#46e9a4" stroke-width="2.2" fill="none"/><path d="M233.20 136.60 l4.60 4.60 M233.20 141.20 l4.60 -4.60" stroke="#2436de" stroke-width="2.2" fill="none"/><path d="M239.40 137.30 l4.60 4.60 M239.40 141.90 l4.60 -4.60" stroke="#2436de" stroke-width="2.2" fill="none"/><path d="M244.70 146.40 l4.60 4.60 M244.70 151.00 l4.60 -4.60" stroke="#2436de" stroke-width="2.2" fill="none"/><path d="M250.20 177.10 l4.60 4.60 M250.20 181.70 l4.60 -4.60" stroke="#2436de" stroke-width="2.2" fill="none"/><path d="M255.40 226.20 l4.60 4.60 M255.40 230.80 l4.60 -4.60" stroke="#2436de" stroke-width="2.2" fill="none"/><path d="M261.20 263.30 l4.60 4.60 M261.20 267.90 l4.60 -4.60" stroke="#2436de" stroke-width="2.2" fill="none"/><path d="M266.30 287.50 l4.60 4.60 M266.30 292.10 l4.60 -4.60" stroke="#2436de" stroke-width="2.2" fill="none"/><path d="M281.90 266.10 l4.60 4.60 M281.90 270.70 l4.60 -4.60" stroke="#2436de" stroke-width="2.2" fill="none"/><path d="M277.00 289.70 l4.60 4.60 M277.00 294.30 l4.60 -4.60" stroke="#2436de" stroke-width="2.2" fill="none"/><path d="M271.60 299.50 l4.60 4.60 M271.60 304.10 l4.60 -4.60" stroke="#2436de" stroke-width="2.2" fill="none"/><path d="M233.20 304.70 l4.60 4.60 M233.20 309.30 l4.60 -4.60" stroke="#2a8a1f" stroke-width="2.2" fill="none"/><path d="M239.20 302.00 l4.60 4.60 M239.20 306.60 l4.60 -4.60" stroke="#2a8a1f" stroke-width="2.2" fill="none"/><path d="M271.90 139.40 l4.60 4.60 M271.90 144.00 l4.60 -4.60" stroke="#2a8a1f" stroke-width="2.2" fill="none"/><path d="M266.40 150.70 l4.60 4.60 M266.40 155.30 l4.60 -4.60" stroke="#2a8a1f" stroke-width="2.2" fill="none"/><path d="M277.10 152.00 l4.60 4.60 M277.10 156.60 l4.60 -4.60" stroke="#2a8a1f" stroke-width="2.2" fill="none"/><path d="M282.70 175.20 l4.60 4.60 M282.70 179.80 l4.60 -4.60" stroke="#2a8a1f" stroke-width="2.2" fill="none"/><path d="M261.10 176.70 l4.60 4.60 M261.10 181.30 l4.60 -4.60" stroke="#2a8a1f" stroke-width="2.2" fill="none"/><path d="M255.40 214.90 l4.60 4.60 M255.40 219.50 l4.60 -4.60" stroke="#2a8a1f" stroke-width="2.2" fill="none"/><path d="M250.00 261.10 l4.60 4.60 M250.00 265.70 l4.60 -4.60" stroke="#2a8a1f" stroke-width="2.2" fill="none"/><path d="M244.70 293.70 l4.60 4.60 M244.70 298.30 l4.60 -4.60" stroke="#2a8a1f" stroke-width="2.2" fill="none"/><path d="M238.80 186.00 l4.60 4.60 M238.80 190.60 l4.60 -4.60" stroke="#ee1c24" stroke-width="2.2" fill="none"/><path d="M244.50 181.90 l4.60 4.60 M244.50 186.50 l4.60 -4.60" stroke="#ee1c24" stroke-width="2.2" fill="none"/><path d="M255.40 196.40 l4.60 4.60 M255.40 201.00 l4.60 -4.60" stroke="#ee1c24" stroke-width="2.2" fill="none"/><path d="M271.90 214.90 l4.60 4.60 M271.90 219.50 l4.60 -4.60" stroke="#ee1c24" stroke-width="2.2" fill="none"/><path d="M249.70 220.50 l4.60 4.60 M249.70 225.10 l4.60 -4.60" stroke="#ee1c24" stroke-width="2.2" fill="none"/><path d="M277.10 232.20 l4.60 4.60 M277.10 236.80 l4.60 -4.60" stroke="#ee1c24" stroke-width="2.2" fill="none"/><path d="M266.20 287.70 l4.60 4.60 M266.20 292.30 l4.60 -4.60" stroke="#ee1c24" stroke-width="2.2" fill="none"/><path d="M282.40 300.60 l4.60 4.60 M282.40 305.20 l4.60 -4.60" stroke="#ee1c24" stroke-width="2.2" fill="none"/><path d="M233.20 306.00 l4.60 4.60 M233.20 310.60 l4.60 -4.60" stroke="#ee1c24" stroke-width="2.2" fill="none"/><path d="M260.80 306.00 l4.60 4.60 M260.80 310.60 l4.60 -4.60" stroke="#ee1c24" stroke-width="2.2" fill="none"/><path d="M233.70 179.40 l4.60 4.60 M233.70 184.00 l4.60 -4.60" stroke="#46e9a4" stroke-width="2.2" fill="none"/><path d="M261.10 180.50 l4.60 4.60 M261.10 185.10 l4.60 -4.60" stroke="#46e9a4" stroke-width="2.2" fill="none"/><path d="M266.40 200.70 l4.60 4.60 M266.40 205.30 l4.60 -4.60" stroke="#46e9a4" stroke-width="2.2" fill="none"/><path d="M282.70 185.70 l4.60 4.60 M282.70 190.30 l4.60 -4.60" stroke="#46e9a4" stroke-width="2.2" fill="none"/><path d="M277.00 254.20 l4.60 4.60 M277.00 258.80 l4.60 -4.60" stroke="#46e9a4" stroke-width="2.2" fill="none"/><path d="M250.00 267.20 l4.60 4.60 M250.00 271.80 l4.60 -4.60" stroke="#46e9a4" stroke-width="2.2" fill="none"/><path d="M271.60 273.20 l4.60 4.60 M271.60 277.80 l4.60 -4.60" stroke="#46e9a4" stroke-width="2.2" fill="none"/><path d="M255.40 289.20 l4.60 4.60 M255.40 293.80 l4.60 -4.60" stroke="#46e9a4" stroke-width="2.2" fill="none"/><path d="M239.20 301.20 l4.60 4.60 M239.20 305.80 l4.60 -4.60" stroke="#46e9a4" stroke-width="2.2" fill="none"/><path d="M243.60 304.90 l4.60 4.60 M243.60 309.50 l4.60 -4.60" stroke="#46e9a4" stroke-width="2.2" fill="none"/><path d="M288.12 229.20 l4.60 4.60 M288.12 233.80 l4.60 -4.60" stroke="#2436de" stroke-width="2.2" fill="none"/><path d="M293.54 188.30 l4.60 4.60 M293.54 192.90 l4.60 -4.60" stroke="#2436de" stroke-width="2.2" fill="none"/><path d="M298.96 34.60 l4.60 4.60 M298.96 39.20 l4.60 -4.60" stroke="#2436de" stroke-width="2.2" fill="none"/><path d="M304.38 143.40 l4.60 4.60 M304.38 148.00 l4.60 -4.60" stroke="#2436de" stroke-width="2.2" fill="none"/><path d="M309.79 71.20 l4.60 4.60 M309.79 75.80 l4.60 -4.60" stroke="#2436de" stroke-width="2.2" fill="none"/><path d="M315.21 134.20 l4.60 4.60 M315.21 138.80 l4.60 -4.60" stroke="#2436de" stroke-width="2.2" fill="none"/><path d="M320.63 99.70 l4.60 4.60 M320.63 104.30 l4.60 -4.60" stroke="#2436de" stroke-width="2.2" fill="none"/><path d="M326.04 131.60 l4.60 4.60 M326.04 136.20 l4.60 -4.60" stroke="#2436de" stroke-width="2.2" fill="none"/><path d="M331.46 94.90 l4.60 4.60 M331.46 99.50 l4.60 -4.60" stroke="#2436de" stroke-width="2.2" fill="none"/><path d="M336.88 135.90 l4.60 4.60 M336.88 140.50 l4.60 -4.60" stroke="#2436de" stroke-width="2.2" fill="none"/><path d="M342.29 152.10 l4.60 4.60 M342.29 156.70 l4.60 -4.60" stroke="#2436de" stroke-width="2.2" fill="none"/><path d="M347.71 183.50 l4.60 4.60 M347.71 188.10 l4.60 -4.60" stroke="#2436de" stroke-width="2.2" fill="none"/><path d="M353.13 204.40 l4.60 4.60 M353.13 209.00 l4.60 -4.60" stroke="#2436de" stroke-width="2.2" fill="none"/><path d="M358.54 137.60 l4.60 4.60 M358.54 142.20 l4.60 -4.60" stroke="#2436de" stroke-width="2.2" fill="none"/><path d="M363.96 169.50 l4.60 4.60 M363.96 174.10 l4.60 -4.60" stroke="#2436de" stroke-width="2.2" fill="none"/><path d="M369.38 184.60 l4.60 4.60 M369.38 189.20 l4.60 -4.60" stroke="#2436de" stroke-width="2.2" fill="none"/><path d="M374.80 285.90 l4.60 4.60 M374.80 290.50 l4.60 -4.60" stroke="#2436de" stroke-width="2.2" fill="none"/><path d="M380.21 268.60 l4.60 4.60 M380.21 273.20 l4.60 -4.60" stroke="#2436de" stroke-width="2.2" fill="none"/><path d="M385.63 169.50 l4.60 4.60 M385.63 174.10 l4.60 -4.60" stroke="#2436de" stroke-width="2.2" fill="none"/><path d="M391.05 188.30 l4.60 4.60 M391.05 192.90 l4.60 -4.60" stroke="#2436de" stroke-width="2.2" fill="none"/><path d="M396.46 162.70 l4.60 4.60 M396.46 167.30 l4.60 -4.60" stroke="#2436de" stroke-width="2.2" fill="none"/><path d="M401.88 59.20 l4.60 4.60 M401.88 63.80 l4.60 -4.60" stroke="#2436de" stroke-width="2.2" fill="none"/><path d="M407.30 29.50 l4.60 4.60 M407.30 34.10 l4.60 -4.60" stroke="#2436de" stroke-width="2.2" fill="none"/><path d="M412.71 111.95 l4.60 4.60 M412.71 116.55 l4.60 -4.60" stroke="#2436de" stroke-width="2.2" fill="none"/><path d="M418.70 132.70 l4.60 4.60 M418.70 137.30 l4.60 -4.60" stroke="#2436de" stroke-width="2.2" fill="none"/><path d="M424.50 133.95 l4.60 4.60 M424.50 138.55 l4.60 -4.60" stroke="#2436de" stroke-width="2.2" fill="none"/><path d="M430.10 133.95 l4.60 4.60 M430.10 138.55 l4.60 -4.60" stroke="#2436de" stroke-width="2.2" fill="none"/><path d="M434.38 127.20 l4.60 4.60 M434.38 131.80 l4.60 -4.60" stroke="#2436de" stroke-width="2.2" fill="none"/><path d="M439.80 70.20 l4.60 4.60 M439.80 74.80 l4.60 -4.60" stroke="#2436de" stroke-width="2.2" fill="none"/><path d="M445.21 28.95 l4.60 4.60 M445.21 33.55 l4.60 -4.60" stroke="#2436de" stroke-width="2.2" fill="none"/><path d="M450.63 125.70 l4.60 4.60 M450.63 130.30 l4.60 -4.60" stroke="#2436de" stroke-width="2.2" fill="none"/><path d="M456.05 232.70 l4.60 4.60 M456.05 237.30 l4.60 -4.60" stroke="#2436de" stroke-width="2.2" fill="none"/><path d="M461.46 267.50 l4.60 4.60 M461.46 272.10 l4.60 -4.60" stroke="#2436de" stroke-width="2.2" fill="none"/><path d="M466.88 206.45 l4.60 4.60 M466.88 211.05 l4.60 -4.60" stroke="#2436de" stroke-width="2.2" fill="none"/><path d="M472.30 233.20 l4.60 4.60 M472.30 237.80 l4.60 -4.60" stroke="#2436de" stroke-width="2.2" fill="none"/><path d="M477.72 292.70 l4.60 4.60 M477.72 297.30 l4.60 -4.60" stroke="#2436de" stroke-width="2.2" fill="none"/><path d="M483.13 229.70 l4.60 4.60 M483.13 234.30 l4.60 -4.60" stroke="#2436de" stroke-width="2.2" fill="none"/><path d="M488.55 182.20 l4.60 4.60 M488.55 186.80 l4.60 -4.60" stroke="#2436de" stroke-width="2.2" fill="none"/><path d="M493.97 207.20 l4.60 4.60 M493.97 211.80 l4.60 -4.60" stroke="#2436de" stroke-width="2.2" fill="none"/><path d="M500.20 50.45 l4.60 4.60 M500.20 55.05 l4.60 -4.60" stroke="#2436de" stroke-width="2.2" fill="none"/><path d="M504.80 151.45 l4.60 4.60 M504.80 156.05 l4.60 -4.60" stroke="#2436de" stroke-width="2.2" fill="none"/><path d="M288.12 84.45 l4.60 4.60 M288.12 89.05 l4.60 -4.60" stroke="#2a8a1f" stroke-width="2.2" fill="none"/><path d="M293.54 125.35 l4.60 4.60 M293.54 129.95 l4.60 -4.60" stroke="#2a8a1f" stroke-width="2.2" fill="none"/><path d="M298.96 279.05 l4.60 4.60 M298.96 283.65 l4.60 -4.60" stroke="#2a8a1f" stroke-width="2.2" fill="none"/><path d="M304.38 170.25 l4.60 4.60 M304.38 174.85 l4.60 -4.60" stroke="#2a8a1f" stroke-width="2.2" fill="none"/><path d="M309.79 242.45 l4.60 4.60 M309.79 247.05 l4.60 -4.60" stroke="#2a8a1f" stroke-width="2.2" fill="none"/><path d="M315.21 179.45 l4.60 4.60 M315.21 184.05 l4.60 -4.60" stroke="#2a8a1f" stroke-width="2.2" fill="none"/><path d="M320.63 213.95 l4.60 4.60 M320.63 218.55 l4.60 -4.60" stroke="#2a8a1f" stroke-width="2.2" fill="none"/><path d="M326.04 182.05 l4.60 4.60 M326.04 186.65 l4.60 -4.60" stroke="#2a8a1f" stroke-width="2.2" fill="none"/><path d="M331.46 218.75 l4.60 4.60 M331.46 223.35 l4.60 -4.60" stroke="#2a8a1f" stroke-width="2.2" fill="none"/><path d="M336.88 177.75 l4.60 4.60 M336.88 182.35 l4.60 -4.60" stroke="#2a8a1f" stroke-width="2.2" fill="none"/><path d="M342.29 161.55 l4.60 4.60 M342.29 166.15 l4.60 -4.60" stroke="#2a8a1f" stroke-width="2.2" fill="none"/><path d="M347.71 130.15 l4.60 4.60 M347.71 134.75 l4.60 -4.60" stroke="#2a8a1f" stroke-width="2.2" fill="none"/><path d="M353.13 109.25 l4.60 4.60 M353.13 113.85 l4.60 -4.60" stroke="#2a8a1f" stroke-width="2.2" fill="none"/><path d="M358.54 176.05 l4.60 4.60 M358.54 180.65 l4.60 -4.60" stroke="#2a8a1f" stroke-width="2.2" fill="none"/><path d="M363.96 144.15 l4.60 4.60 M363.96 148.75 l4.60 -4.60" stroke="#2a8a1f" stroke-width="2.2" fill="none"/><path d="M369.38 129.05 l4.60 4.60 M369.38 133.65 l4.60 -4.60" stroke="#2a8a1f" stroke-width="2.2" fill="none"/><path d="M374.80 27.75 l4.60 4.60 M374.80 32.35 l4.60 -4.60" stroke="#2a8a1f" stroke-width="2.2" fill="none"/><path d="M380.21 45.05 l4.60 4.60 M380.21 49.65 l4.60 -4.60" stroke="#2a8a1f" stroke-width="2.2" fill="none"/><path d="M385.63 144.15 l4.60 4.60 M385.63 148.75 l4.60 -4.60" stroke="#2a8a1f" stroke-width="2.2" fill="none"/><path d="M391.05 125.35 l4.60 4.60 M391.05 129.95 l4.60 -4.60" stroke="#2a8a1f" stroke-width="2.2" fill="none"/><path d="M396.46 150.95 l4.60 4.60 M396.46 155.55 l4.60 -4.60" stroke="#2a8a1f" stroke-width="2.2" fill="none"/><path d="M401.88 254.45 l4.60 4.60 M401.88 259.05 l4.60 -4.60" stroke="#2a8a1f" stroke-width="2.2" fill="none"/><path d="M407.30 284.15 l4.60 4.60 M407.30 288.75 l4.60 -4.60" stroke="#2a8a1f" stroke-width="2.2" fill="none"/><path d="M412.71 201.70 l4.60 4.60 M412.71 206.30 l4.60 -4.60" stroke="#2a8a1f" stroke-width="2.2" fill="none"/><path d="M418.70 180.95 l4.60 4.60 M418.70 185.55 l4.60 -4.60" stroke="#2a8a1f" stroke-width="2.2" fill="none"/><path d="M424.50 179.70 l4.60 4.60 M424.50 184.30 l4.60 -4.60" stroke="#2a8a1f" stroke-width="2.2" fill="none"/><path d="M430.10 179.70 l4.60 4.60 M430.10 184.30 l4.60 -4.60" stroke="#2a8a1f" stroke-width="2.2" fill="none"/><path d="M434.38 186.45 l4.60 4.60 M434.38 191.05 l4.60 -4.60" stroke="#2a8a1f" stroke-width="2.2" fill="none"/><path d="M439.80 243.45 l4.60 4.60 M439.80 248.05 l4.60 -4.60" stroke="#2a8a1f" stroke-width="2.2" fill="none"/><path d="M445.21 284.70 l4.60 4.60 M445.21 289.30 l4.60 -4.60" stroke="#2a8a1f" stroke-width="2.2" fill="none"/><path d="M450.63 187.95 l4.60 4.60 M450.63 192.55 l4.60 -4.60" stroke="#2a8a1f" stroke-width="2.2" fill="none"/><path d="M456.05 80.95 l4.60 4.60 M456.05 85.55 l4.60 -4.60" stroke="#2a8a1f" stroke-width="2.2" fill="none"/><path d="M461.46 46.15 l4.60 4.60 M461.46 50.75 l4.60 -4.60" stroke="#2a8a1f" stroke-width="2.2" fill="none"/><path d="M466.88 107.20 l4.60 4.60 M466.88 111.80 l4.60 -4.60" stroke="#2a8a1f" stroke-width="2.2" fill="none"/><path d="M472.30 80.45 l4.60 4.60 M472.30 85.05 l4.60 -4.60" stroke="#2a8a1f" stroke-width="2.2" fill="none"/><path d="M477.72 20.95 l4.60 4.60 M477.72 25.55 l4.60 -4.60" stroke="#2a8a1f" stroke-width="2.2" fill="none"/><path d="M483.13 83.95 l4.60 4.60 M483.13 88.55 l4.60 -4.60" stroke="#2a8a1f" stroke-width="2.2" fill="none"/><path d="M488.55 131.45 l4.60 4.60 M488.55 136.05 l4.60 -4.60" stroke="#2a8a1f" stroke-width="2.2" fill="none"/><path d="M493.97 106.45 l4.60 4.60 M493.97 111.05 l4.60 -4.60" stroke="#2a8a1f" stroke-width="2.2" fill="none"/><path d="M500.20 263.20 l4.60 4.60 M500.20 267.80 l4.60 -4.60" stroke="#2a8a1f" stroke-width="2.2" fill="none"/><path d="M504.80 162.20 l4.60 4.60 M504.80 166.80 l4.60 -4.60" stroke="#2a8a1f" stroke-width="2.2" fill="none"/></g>
<rect x="288.5" y="306.2" width="221.8" height="6.1" fill="#46e9a4"/>
<path d="M290.43 309.3h0.01M295.84 309.3h0.01M301.26 309.3h0.01M306.68 309.3h0.01M312.09 309.3h0.01M317.51 309.3h0.01M322.93 309.3h0.01M328.34 309.3h0.01M333.76 309.3h0.01M339.18 309.3h0.01M344.59 309.3h0.01M350.01 309.3h0.01M355.43 309.3h0.01M360.84 309.3h0.01M366.26 309.3h0.01M371.68 309.3h0.01M377.10 309.3h0.01M382.51 309.3h0.01M387.93 309.3h0.01M393.35 309.3h0.01M398.76 309.3h0.01M404.18 309.3h0.01M409.60 309.3h0.01M415.01 309.3h0.01M420.43 309.3h0.01M425.85 309.3h0.01M431.26 309.3h0.01M436.68 309.3h0.01M442.10 309.3h0.01M447.51 309.3h0.01M452.93 309.3h0.01M458.35 309.3h0.01M463.76 309.3h0.01M469.18 309.3h0.01M474.60 309.3h0.01M480.02 309.3h0.01M485.43 309.3h0.01M490.85 309.3h0.01M496.27 309.3h0.01M501.68 309.3h0.01M507.10 309.3h0.01" stroke="#1f9a58" stroke-width="1.7" stroke-linecap="round" fill="none" opacity="0.85"/>
<rect x="426.3" y="15.3" width="75.2" height="95.1" fill="#fff" stroke="#111" stroke-width="1.2"/>
<path d="M433.3 28.8 H468.3" stroke="#1f38e2" stroke-width="2.8"/>
<path d="M433.2 52.0 H468.4" stroke="#2a8a1f" stroke-width="2.5" stroke-dasharray="7.3 7.2"/>
<path d="M432.8 74.7 H469.2" stroke="#ee1c24" stroke-width="2.3" stroke-dasharray="1.6 4.4 7 4.4"/>
<path d="M433 98.0 H468.5" stroke="#46e9a4" stroke-width="2.6" stroke-dasharray="1.2 2.65" opacity="0.75"/>
<text transform="translate(471.5,35.2) scale(1.07,1)" font-size="17.8" fill="#111">T1</text>
<text transform="translate(471.5,58.4) scale(1.07,1)" font-size="17.8" fill="#111">T2</text>
<text transform="translate(471.5,81.1) scale(1.07,1)" font-size="17.8" fill="#111">R1</text>
<text transform="translate(471.5,104.4) scale(1.07,1)" font-size="17.8" fill="#111">R2</text>
</svg>
</body></html>
